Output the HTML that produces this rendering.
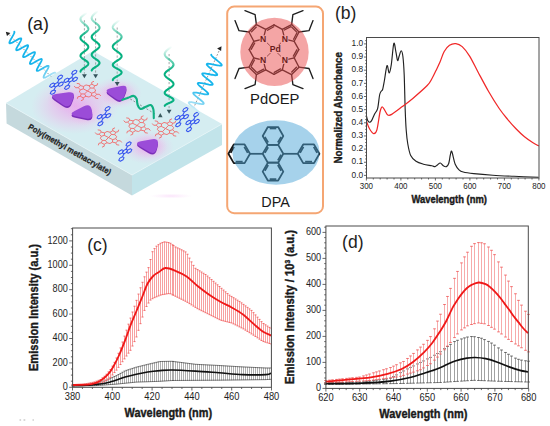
<!DOCTYPE html>
<html><head><meta charset="utf-8"><style>
html,body{margin:0;padding:0;background:#fff;width:550px;height:426px;overflow:hidden;font-family:"Liberation Sans", sans-serif;}
</style></head><body>
<svg width="550" height="426" viewBox="0 0 550 426" style="position:absolute;left:0;top:0">
<rect width="550" height="426" fill="#ffffff"/>
<defs>
<radialGradient id="pg1" cx="50%" cy="50%" r="50%"><stop offset="0" stop-color="#ea90ee" stop-opacity="0.85"/><stop offset="0.55" stop-color="#f0aeea" stop-opacity="0.5"/><stop offset="1" stop-color="#f2c0ec" stop-opacity="0"/></radialGradient>
<radialGradient id="pg2" cx="50%" cy="50%" r="50%"><stop offset="0" stop-color="#f2a8f2" stop-opacity="0.8"/><stop offset="1" stop-color="#f6c8f6" stop-opacity="0"/></radialGradient>
<filter id="blur1" x="-50%" y="-50%" width="200%" height="200%"><feGaussianBlur stdDeviation="0.35"/></filter>
</defs>
<ellipse cx="171" cy="196" rx="22" ry="2.6" fill="url(#pg2)" opacity="0.4"/>
<polygon points="6,103 132,175 132,195.6 6.6,123.5" fill="#c5d9dd"/>
<polygon points="132,175 222,124 222,145 132,195.6" fill="#c2e4ea"/>
<polygon points="6,103 93,51 222,124 132,175" fill="#d5edf1"/>
<polyline points="6,103 132,175 222,124" fill="none" stroke="#e4f4f6" stroke-width="0.8"/>
<ellipse cx="75" cy="106" rx="44" ry="28" fill="url(#pg1)" opacity="0.85"/>
<ellipse cx="117" cy="93" rx="25" ry="16" fill="url(#pg1)" opacity="0.65"/>
<ellipse cx="147" cy="147" rx="27" ry="17" fill="url(#pg1)" opacity="0.65"/>
<ellipse cx="64.5" cy="99.4" rx="18" ry="12.5" fill="url(#pg1)" opacity="0.6"/>
<ellipse cx="84" cy="113.47" rx="18" ry="12.5" fill="url(#pg1)" opacity="0.6"/>
<ellipse cx="117.73" cy="93.47" rx="18" ry="12.5" fill="url(#pg1)" opacity="0.6"/>
<ellipse cx="149.33" cy="146.33" rx="18" ry="12.5" fill="url(#pg1)" opacity="0.6"/>
<g fill="none" stroke="#f26262" stroke-width="0.85" stroke-linejoin="round"><polyline points="83.31,88.86 83.56,86.4 80.21,85.59 78.2,87.69 80.34,89.77 83.31,88.86"/><polyline points="83.56,86.4 86.03,84.94"/><polyline points="80.34,89.77 79.32,91.98"/><polyline points="80.21,85.59 79.44,83.8 76.76,83.37"/><polyline points="78.2,87.69 75.67,87.75 74.23,86.02"/><polyline points="90.44,88.01 89.04,85.74 91.82,84.2 94.7,85.71 93.67,88.17 90.44,88.01"/><polyline points="89.04,85.74 86.03,84.94"/><polyline points="93.67,88.17 95.68,90.02"/><polyline points="91.82,84.2 91.7,82.33 94.02,81.3"/><polyline points="94.7,85.71 97.12,85.18 97.66,83.21"/><polyline points="91.69,93.14 91.44,95.6 94.79,96.41 96.8,94.31 94.66,92.23 91.69,93.14"/><polyline points="91.44,95.6 88.97,97.06"/><polyline points="94.66,92.23 95.68,90.02"/><polyline points="94.79,96.41 95.56,98.2 98.24,98.63"/><polyline points="96.8,94.31 99.33,94.25 100.77,95.98"/><polyline points="84.56,93.99 85.96,96.26 83.18,97.8 80.3,96.29 81.33,93.83 84.56,93.99"/><polyline points="85.96,96.26 88.97,97.06"/><polyline points="81.33,93.83 79.32,91.98"/><polyline points="83.18,97.8 83.3,99.67 80.98,100.7"/><polyline points="80.3,96.29 77.88,96.82 77.34,98.79"/><polyline points="83.31,88.86 87.5,91"/><polyline points="90.44,88.01 87.5,91"/><polyline points="91.69,93.14 87.5,91"/><polyline points="84.56,93.99 87.5,91"/></g>
<g fill="none" stroke="#f26262" stroke-width="0.85" stroke-linejoin="round"><polyline points="104.31,135.36 104.56,132.9 101.21,132.09 99.2,134.19 101.34,136.27 104.31,135.36"/><polyline points="104.56,132.9 107.03,131.44"/><polyline points="101.34,136.27 100.32,138.48"/><polyline points="101.21,132.09 100.44,130.3 97.76,129.87"/><polyline points="99.2,134.19 96.67,134.25 95.23,132.52"/><polyline points="111.44,134.51 110.04,132.24 112.82,130.7 115.7,132.21 114.67,134.67 111.44,134.51"/><polyline points="110.04,132.24 107.03,131.44"/><polyline points="114.67,134.67 116.68,136.52"/><polyline points="112.82,130.7 112.7,128.83 115.02,127.8"/><polyline points="115.7,132.21 118.12,131.68 118.66,129.71"/><polyline points="112.69,139.64 112.44,142.1 115.79,142.91 117.8,140.81 115.66,138.73 112.69,139.64"/><polyline points="112.44,142.1 109.97,143.56"/><polyline points="115.66,138.73 116.68,136.52"/><polyline points="115.79,142.91 116.56,144.7 119.24,145.13"/><polyline points="117.8,140.81 120.33,140.75 121.77,142.48"/><polyline points="105.56,140.49 106.96,142.76 104.18,144.3 101.3,142.79 102.33,140.33 105.56,140.49"/><polyline points="106.96,142.76 109.97,143.56"/><polyline points="102.33,140.33 100.32,138.48"/><polyline points="104.18,144.3 104.3,146.17 101.98,147.2"/><polyline points="101.3,142.79 98.88,143.32 98.34,145.29"/><polyline points="104.31,135.36 108.5,137.5"/><polyline points="111.44,134.51 108.5,137.5"/><polyline points="112.69,139.64 108.5,137.5"/><polyline points="105.56,140.49 108.5,137.5"/></g>
<g fill="none" stroke="#f26262" stroke-width="0.85" stroke-linejoin="round"><polyline points="132.81,123.36 133.06,120.9 129.71,120.09 127.7,122.19 129.84,124.27 132.81,123.36"/><polyline points="133.06,120.9 135.53,119.44"/><polyline points="129.84,124.27 128.82,126.48"/><polyline points="129.71,120.09 128.94,118.3 126.26,117.87"/><polyline points="127.7,122.19 125.17,122.25 123.73,120.52"/><polyline points="139.94,122.51 138.54,120.24 141.32,118.7 144.2,120.21 143.17,122.67 139.94,122.51"/><polyline points="138.54,120.24 135.53,119.44"/><polyline points="143.17,122.67 145.18,124.52"/><polyline points="141.32,118.7 141.2,116.83 143.52,115.8"/><polyline points="144.2,120.21 146.62,119.68 147.16,117.71"/><polyline points="141.19,127.64 140.94,130.1 144.29,130.91 146.3,128.81 144.16,126.73 141.19,127.64"/><polyline points="140.94,130.1 138.47,131.56"/><polyline points="144.16,126.73 145.18,124.52"/><polyline points="144.29,130.91 145.06,132.7 147.74,133.13"/><polyline points="146.3,128.81 148.83,128.75 150.27,130.48"/><polyline points="134.06,128.49 135.46,130.76 132.68,132.3 129.8,130.79 130.83,128.33 134.06,128.49"/><polyline points="135.46,130.76 138.47,131.56"/><polyline points="130.83,128.33 128.82,126.48"/><polyline points="132.68,132.3 132.8,134.17 130.48,135.2"/><polyline points="129.8,130.79 127.38,131.32 126.84,133.29"/><polyline points="132.81,123.36 137,125.5"/><polyline points="139.94,122.51 137,125.5"/><polyline points="141.19,127.64 137,125.5"/><polyline points="134.06,128.49 137,125.5"/></g>
<g fill="none" stroke="#f26262" stroke-width="0.85" stroke-linejoin="round"><polyline points="161.31,126.36 161.56,123.9 158.21,123.09 156.2,125.19 158.34,127.27 161.31,126.36"/><polyline points="161.56,123.9 164.03,122.44"/><polyline points="158.34,127.27 157.32,129.48"/><polyline points="158.21,123.09 157.44,121.3 154.76,120.87"/><polyline points="156.2,125.19 153.67,125.25 152.23,123.52"/><polyline points="168.44,125.51 167.04,123.24 169.82,121.7 172.7,123.21 171.67,125.67 168.44,125.51"/><polyline points="167.04,123.24 164.03,122.44"/><polyline points="171.67,125.67 173.68,127.52"/><polyline points="169.82,121.7 169.7,119.83 172.02,118.8"/><polyline points="172.7,123.21 175.12,122.68 175.66,120.71"/><polyline points="169.69,130.64 169.44,133.1 172.79,133.91 174.8,131.81 172.66,129.73 169.69,130.64"/><polyline points="169.44,133.1 166.97,134.56"/><polyline points="172.66,129.73 173.68,127.52"/><polyline points="172.79,133.91 173.56,135.7 176.24,136.13"/><polyline points="174.8,131.81 177.33,131.75 178.77,133.48"/><polyline points="162.56,131.49 163.96,133.76 161.18,135.3 158.3,133.79 159.33,131.33 162.56,131.49"/><polyline points="163.96,133.76 166.97,134.56"/><polyline points="159.33,131.33 157.32,129.48"/><polyline points="161.18,135.3 161.3,137.17 158.98,138.2"/><polyline points="158.3,133.79 155.88,134.32 155.34,136.29"/><polyline points="161.31,126.36 165.5,128.5"/><polyline points="168.44,125.51 165.5,128.5"/><polyline points="169.69,130.64 165.5,128.5"/><polyline points="162.56,131.49 165.5,128.5"/></g>
<g fill="none" stroke="#3554ee" stroke-width="1.05" stroke-linejoin="round"><polygon points="53.85,86.06 51.2,87.41 49.61,86.57 50.66,84.36 53.31,83 54.9,83.85"/><polygon points="58.1,85.55 55.45,86.91 53.85,86.06 54.9,83.85 57.55,82.5 59.15,83.34"/><polygon points="62.34,85.04 59.69,86.4 58.1,85.55 59.15,83.34 61.8,81.99 63.39,82.83"/><polyline points="57.55,82.5 59.02,79.44"/><polyline points="55.45,86.91 53.98,89.97"/><polygon points="61.66,78.08 59.02,79.44 57.42,78.59 58.47,76.38 61.12,75.03 62.72,75.87"/><polygon points="54.53,93.02 51.88,94.38 50.28,93.53 51.34,91.32 53.98,89.97 55.58,90.81"/></g>
<g fill="none" stroke="#3554ee" stroke-width="1.05" stroke-linejoin="round"><polygon points="68.05,81.16 65.4,82.51 63.81,81.67 64.86,79.46 67.51,78.1 69.1,78.95"/><polygon points="72.3,80.65 69.65,82 68.05,81.16 69.1,78.95 71.75,77.59 73.35,78.44"/><polygon points="76.54,80.14 73.89,81.5 72.3,80.65 73.35,78.44 76,77.09 77.59,77.93"/><polyline points="71.75,77.59 73.22,74.53"/><polyline points="69.65,82 68.18,85.06"/><polygon points="75.86,73.18 73.22,74.53 71.62,73.69 72.67,71.48 75.32,70.12 76.92,70.97"/><polygon points="68.73,88.12 66.08,89.47 64.48,88.63 65.54,86.42 68.18,85.06 69.78,85.91"/></g>
<g fill="none" stroke="#3554ee" stroke-width="1.05" stroke-linejoin="round"><polygon points="101.35,117.56 98.7,118.91 97.11,118.07 98.16,115.86 100.81,114.5 102.4,115.35"/><polygon points="105.6,117.05 102.95,118.41 101.35,117.56 102.4,115.35 105.05,114 106.65,114.84"/><polygon points="109.84,116.54 107.19,117.9 105.6,117.05 106.65,114.84 109.3,113.49 110.89,114.33"/><polyline points="105.05,114 106.52,110.94"/><polyline points="102.95,118.41 101.48,121.47"/><polygon points="109.16,109.58 106.52,110.94 104.92,110.09 105.97,107.88 108.62,106.53 110.22,107.37"/><polygon points="102.03,124.52 99.38,125.88 97.78,125.03 98.84,122.82 101.48,121.47 103.08,122.31"/></g>
<g fill="none" stroke="#3554ee" stroke-width="1.05" stroke-linejoin="round"><polygon points="122.35,152.86 119.7,154.21 118.11,153.37 119.16,151.16 121.81,149.8 123.4,150.65"/><polygon points="126.6,152.35 123.95,153.71 122.35,152.86 123.4,150.65 126.05,149.29 127.65,150.14"/><polygon points="130.84,151.84 128.19,153.2 126.6,152.35 127.65,150.14 130.3,148.79 131.89,149.63"/><polyline points="126.05,149.29 127.52,146.24"/><polyline points="123.95,153.71 122.48,156.76"/><polygon points="130.16,144.88 127.52,146.24 125.92,145.39 126.97,143.18 129.62,141.82 131.22,142.67"/><polygon points="123.03,159.82 120.38,161.18 118.78,160.33 119.84,158.12 122.48,156.76 124.08,157.61"/></g>
<g fill="none" stroke="#3554ee" stroke-width="1.05" stroke-linejoin="round"><polygon points="179.15,118.56 176.5,119.91 174.91,119.07 175.96,116.86 178.61,115.5 180.2,116.35"/><polygon points="183.4,118.05 180.75,119.41 179.15,118.56 180.2,116.35 182.85,115 184.45,115.84"/><polygon points="187.64,117.54 184.99,118.9 183.4,118.05 184.45,115.84 187.1,114.49 188.69,115.33"/><polyline points="182.85,115 184.32,111.94"/><polyline points="180.75,119.41 179.28,122.47"/><polygon points="186.96,110.58 184.32,111.94 182.72,111.09 183.77,108.88 186.42,107.53 188.02,108.37"/><polygon points="179.83,125.52 177.18,126.88 175.58,126.03 176.64,123.82 179.28,122.47 180.88,123.31"/></g>
<g fill="none" stroke="#3554ee" stroke-width="1.05" stroke-linejoin="round"><polygon points="189.95,123.36 187.3,124.71 185.71,123.87 186.76,121.66 189.41,120.3 191,121.15"/><polygon points="194.2,122.85 191.55,124.2 189.95,123.36 191,121.15 193.65,119.8 195.25,120.64"/><polygon points="198.44,122.34 195.79,123.7 194.2,122.85 195.25,120.64 197.9,119.29 199.49,120.13"/><polyline points="193.65,119.8 195.12,116.73"/><polyline points="191.55,124.2 190.08,127.27"/><polygon points="197.76,115.38 195.12,116.73 193.52,115.89 194.57,113.68 197.22,112.33 198.82,113.17"/><polygon points="190.63,130.32 187.98,131.68 186.38,130.83 187.44,128.62 190.08,127.27 191.68,128.11"/></g>
<path d="M54.67,99.07 Q48.5,94.8 55.94,93.88L68.56,92.32 Q76,91.4 73.23,98.37L71.77,102.03 Q69,109 62.83,104.73Z" fill="#7a2fb8" transform="translate(0,1.6)"/><path d="M54.67,99.07 Q48.5,94.8 55.94,93.88L68.56,92.32 Q76,91.4 73.23,98.37L71.77,102.03 Q69,109 62.83,104.73Z" fill="#9b4cd8"/>
<path d="M75.34,116.15 Q68,114.6 74.64,111.12L83.86,106.28 Q90.5,102.8 91.79,110.19L92.21,112.61 Q93.5,120 86.16,118.45Z" fill="#7a2fb8" transform="translate(0,1.6)"/><path d="M75.34,116.15 Q68,114.6 74.64,111.12L83.86,106.28 Q90.5,102.8 91.79,110.19L92.21,112.61 Q93.5,120 86.16,118.45Z" fill="#9b4cd8"/>
<path d="M109.28,94.19 Q103.2,89.8 110.55,88.29L121.15,86.11 Q128.5,84.6 125.83,91.61L124.17,95.99 Q121.5,103 115.42,98.61Z" fill="#7a2fb8" transform="translate(0,1.6)"/><path d="M109.28,94.19 Q103.2,89.8 110.55,88.29L121.15,86.11 Q128.5,84.6 125.83,91.61L124.17,95.99 Q121.5,103 115.42,98.61Z" fill="#9b4cd8"/>
<path d="M139.92,146.38 Q133.5,142.5 140.89,141.22L152.11,139.28 Q159.5,138 157.63,145.26L156.87,148.24 Q155,155.5 148.58,151.62Z" fill="#7a2fb8" transform="translate(0,1.6)"/><path d="M139.92,146.38 Q133.5,142.5 140.89,141.22L152.11,139.28 Q159.5,138 157.63,145.26L156.87,148.24 Q155,155.5 148.58,151.62Z" fill="#9b4cd8"/>
<linearGradient id="g1" gradientUnits="userSpaceOnUse" x1="0" y1="12.2" x2="0" y2="37.2"><stop offset="0" stop-color="#30c8a0" stop-opacity="0"/><stop offset="0.45" stop-color="#20bb92" stop-opacity="0.55"/><stop offset="1" stop-color="#06b080"/></linearGradient><line x1="84.4" y1="20.2" x2="84.4" y2="73.8" stroke="#8a9292" stroke-width="0.8" stroke-dasharray="2.2,1.8"/><path d="M84.4,78.3 l-2.4,-4 l4.8,0 Z" fill="#33525a"/><path d="M85.84,13.2 L85.35,13.6 L84.84,14 L84.33,14.4 L83.81,14.8 L83.31,15.2 L82.83,15.6 L82.37,16 L81.95,16.4 L81.57,16.8 L81.24,17.2 L80.97,17.6 L80.75,18 L80.6,18.4 L80.52,18.8 L80.5,19.2 L80.55,19.6 L80.66,20 L80.84,20.4 L81.08,20.8 L81.37,21.2 L81.71,21.6 L82.1,22 L82.52,22.4 L82.98,22.8 L83.46,23.2 L83.96,23.6 L84.46,24 L84.97,24.4 L85.46,24.8 L85.94,25.2 L86.39,25.6 L86.8,26 L87.18,26.4 L87.51,26.8 L87.79,27.2 L88.01,27.6 L88.17,28 L88.27,28.4 L88.3,28.8 L88.26,29.2 L88.15,29.6 L87.97,30 L87.72,30.4 L87.41,30.8 L87.04,31.2 L86.62,31.6 L86.15,32 L85.66,32.4 L85.14,32.8 L84.6,33.2 L84.06,33.6 L83.53,34 L83.02,34.4 L82.53,34.8 L82.08,35.2 L81.67,35.6 L81.31,36 L81.01,36.4 L80.78,36.8 L80.61,37.2 L80.52,37.6 L80.5,38 L80.56,38.4 L80.69,38.8 L80.89,39.2 L81.15,39.6 L81.48,40 L81.86,40.4 L82.3,40.8 L82.77,41.2 L83.27,41.6 L83.8,42 L84.33,42.4 L84.87,42.8 L85.4,43.2 L85.91,43.6 L86.39,44 L86.83,44.4 L87.23,44.8 L87.57,45.2 L87.85,45.6 L88.07,46 L88.22,46.4 L88.29,46.8 L88.29,47.2 L88.21,47.6 L88.05,48 L87.82,48.4 L87.52,48.8 L87.16,49.2 L86.74,49.6 L86.27,50 L85.76,50.4 L85.23,50.8 L84.68,51.2 L84.12,51.6 L83.57,52 L83.04,52.4 L82.53,52.8 L82.06,53.2 L81.64,53.6 L81.28,54 L80.98,54.4 L80.75,54.8 L80.59,55.2 L80.51,55.6 L80.51,56 L80.61,56.4 L80.81,56.8 L81.1,57.2 L81.48,57.6 L81.93,58 L82.45,58.4 L83.02,58.8 L83.62,59.2 L84.24,59.6 L84.87,60 L85.49,60.4 L86.07,60.8 L86.62,61.2 L87.1,61.6 L87.52,62 L87.85,62.4 L88.1,62.8 L88.25,63.2 L88.3,63.6 L88.25,64 L88.11,64.4 L87.89,64.8 L87.57,65.2 L87.18,65.6 L86.73,66 L86.22,66.4 L85.66,66.8 L85.08,67.2 L84.48,67.6 L83.87,68 L83.28,68.4 L82.72,68.8 L82.19,69.2 L81.72,69.6 L81.32,70 L80.99,70.4 L80.74,70.8 L80.57,71.2 L80.5,71.6" fill="none" stroke="url(#g1)" stroke-width="2.1" stroke-linecap="round"/>
<linearGradient id="g2" gradientUnits="userSpaceOnUse" x1="0" y1="10.4" x2="0" y2="35.4"><stop offset="0" stop-color="#30c8a0" stop-opacity="0"/><stop offset="0.45" stop-color="#20bb92" stop-opacity="0.55"/><stop offset="1" stop-color="#06b080"/></linearGradient><line x1="95.6" y1="18.4" x2="95.6" y2="73.8" stroke="#8a9292" stroke-width="0.8" stroke-dasharray="2.2,1.8"/><path d="M95.6,78.3 l-2.4,-4 l4.8,0 Z" fill="#33525a"/><path d="M97.04,11.4 L96.61,11.8 L96.17,12.2 L95.73,12.6 L95.28,13 L94.84,13.4 L94.41,13.8 L93.99,14.2 L93.6,14.6 L93.23,15 L92.89,15.4 L92.59,15.8 L92.32,16.2 L92.1,16.6 L91.93,17 L91.8,17.4 L91.73,17.8 L91.7,18.2 L91.73,18.6 L91.84,19 L92.01,19.4 L92.24,19.8 L92.54,20.2 L92.89,20.6 L93.29,21 L93.73,21.4 L94.2,21.8 L94.7,22.2 L95.21,22.6 L95.73,23 L96.25,23.4 L96.76,23.8 L97.24,24.2 L97.7,24.6 L98.12,25 L98.49,25.4 L98.82,25.8 L99.08,26.2 L99.28,26.6 L99.42,27 L99.49,27.4 L99.49,27.8 L99.42,28.2 L99.28,28.6 L99.08,29 L98.82,29.4 L98.49,29.8 L98.12,30.2 L97.7,30.6 L97.24,31 L96.76,31.4 L96.25,31.8 L95.73,32.2 L95.21,32.6 L94.7,33 L94.2,33.4 L93.73,33.8 L93.29,34.2 L92.89,34.6 L92.54,35 L92.24,35.4 L92.01,35.8 L91.84,36.2 L91.73,36.6 L91.7,37 L91.74,37.4 L91.85,37.8 L92.04,38.2 L92.31,38.6 L92.63,39 L93.02,39.4 L93.45,39.8 L93.93,40.2 L94.45,40.6 L94.98,41 L95.53,41.4 L96.08,41.8 L96.62,42.2 L97.14,42.6 L97.63,43 L98.08,43.4 L98.48,43.8 L98.82,44.2 L99.1,44.6 L99.3,45 L99.44,45.4 L99.5,45.8 L99.48,46.2 L99.38,46.6 L99.21,47 L98.97,47.4 L98.66,47.8 L98.28,48.2 L97.86,48.6 L97.39,49 L96.88,49.4 L96.35,49.8 L95.81,50.2 L95.26,50.6 L94.71,51 L94.19,51.4 L93.69,51.8 L93.23,52.2 L92.82,52.6 L92.46,53 L92.17,53.4 L91.94,53.8 L91.79,54.2 L91.71,54.6 L91.71,55 L91.8,55.4 L91.98,55.8 L92.25,56.2 L92.59,56.6 L93.01,57 L93.48,57.4 L94,57.8 L94.57,58.2 L95.15,58.6 L95.75,59 L96.34,59.4 L96.92,59.8 L97.46,60.2 L97.96,60.6 L98.41,61 L98.79,61.4 L99.1,61.8 L99.32,62.2 L99.45,62.6 L99.5,63 L99.45,63.4 L99.3,63.8 L99.05,64.2 L98.72,64.6 L98.3,65 L97.82,65.4 L97.27,65.8 L96.69,66.2 L96.07,66.6 L95.44,67 L94.82,67.4 L94.22,67.8 L93.65,68.2 L93.13,68.6 L92.68,69 L92.3,69.4 L92.01,69.8 L91.81,70.2 L91.71,70.6" fill="none" stroke="url(#g2)" stroke-width="2.1" stroke-linecap="round"/>
<linearGradient id="g3" gradientUnits="userSpaceOnUse" x1="0" y1="19.5" x2="0" y2="44.5"><stop offset="0" stop-color="#30c8a0" stop-opacity="0"/><stop offset="0.45" stop-color="#20bb92" stop-opacity="0.55"/><stop offset="1" stop-color="#06b080"/></linearGradient><line x1="117.2" y1="27.5" x2="117.2" y2="81.6" stroke="#8a9292" stroke-width="0.8" stroke-dasharray="2.2,1.8"/><path d="M117.2,86.1 l-2.4,-4 l4.8,0 Z" fill="#33525a"/><path d="M118.82,20.5 L118.33,20.9 L117.83,21.3 L117.32,21.7 L116.81,22.1 L116.31,22.5 L115.81,22.9 L115.34,23.3 L114.89,23.7 L114.47,24.1 L114.09,24.5 L113.75,24.9 L113.45,25.3 L113.21,25.7 L113.02,26.1 L112.89,26.5 L112.82,26.9 L112.8,27.3 L112.86,27.7 L112.99,28.1 L113.18,28.5 L113.45,28.9 L113.78,29.3 L114.17,29.7 L114.6,30.1 L115.08,30.5 L115.6,30.9 L116.14,31.3 L116.7,31.7 L117.27,32.1 L117.84,32.5 L118.4,32.9 L118.93,33.3 L119.44,33.7 L119.91,34.1 L120.34,34.5 L120.71,34.9 L121.02,35.3 L121.27,35.7 L121.45,36.1 L121.56,36.5 L121.6,36.9 L121.56,37.3 L121.45,37.7 L121.27,38.1 L121.02,38.5 L120.71,38.9 L120.34,39.3 L119.91,39.7 L119.44,40.1 L118.93,40.5 L118.4,40.9 L117.84,41.3 L117.27,41.7 L116.7,42.1 L116.14,42.5 L115.6,42.9 L115.08,43.3 L114.6,43.7 L114.17,44.1 L113.78,44.5 L113.45,44.9 L113.18,45.3 L112.99,45.7 L112.86,46.1 L112.8,46.5 L112.82,46.9 L112.91,47.3 L113.08,47.7 L113.31,48.1 L113.61,48.5 L113.97,48.9 L114.38,49.3 L114.84,49.7 L115.34,50.1 L115.87,50.5 L116.42,50.9 L116.99,51.3 L117.56,51.7 L118.12,52.1 L118.67,52.5 L119.19,52.9 L119.68,53.3 L120.13,53.7 L120.53,54.1 L120.87,54.5 L121.16,54.9 L121.37,55.3 L121.52,55.7 L121.59,56.1 L121.59,56.5 L121.5,56.9 L121.32,57.3 L121.05,57.7 L120.7,58.1 L120.28,58.5 L119.8,58.9 L119.26,59.3 L118.68,59.7 L118.07,60.1 L117.44,60.5 L116.8,60.9 L116.18,61.3 L115.57,61.7 L115,62.1 L114.47,62.5 L114.01,62.9 L113.6,63.3 L113.28,63.7 L113.03,64.1 L112.87,64.5 L112.8,64.9 L112.84,65.3 L112.99,65.7 L113.27,66.1 L113.66,66.5 L114.16,66.9 L114.74,67.3 L115.39,67.7 L116.09,68.1 L116.83,68.5 L117.57,68.9 L118.31,69.3 L119.01,69.7 L119.66,70.1 L120.24,70.5 L120.74,70.9 L121.13,71.3 L121.41,71.7 L121.56,72.1 L121.6,72.5 L121.51,72.9 L121.31,73.3 L121,73.7 L120.58,74.1 L120.08,74.5 L119.5,74.9 L118.86,75.3 L118.18,75.7 L117.47,76.1 L116.75,76.5 L116.05,76.9 L115.37,77.3 L114.75,77.7 L114.19,78.1 L113.7,78.5 L113.32,78.9 L113.03,79.3 L112.86,79.7 L112.8,80.1" fill="none" stroke="url(#g3)" stroke-width="2.1" stroke-linecap="round"/>
<linearGradient id="g4" gradientUnits="userSpaceOnUse" x1="0" y1="46" x2="0" y2="71"><stop offset="0" stop-color="#30c8a0" stop-opacity="0"/><stop offset="0.45" stop-color="#20bb92" stop-opacity="0.55"/><stop offset="1" stop-color="#06b080"/></linearGradient><line x1="169.1" y1="54" x2="169.1" y2="109.2" stroke="#8a9292" stroke-width="0.8" stroke-dasharray="2.2,1.8"/><path d="M169.1,113.7 l-2.4,-4 l4.8,0 Z" fill="#33525a"/><path d="M170.72,47 L170.26,47.4 L169.79,47.8 L169.31,48.2 L168.83,48.6 L168.35,49 L167.88,49.4 L167.42,49.8 L166.99,50.2 L166.58,50.6 L166.2,51 L165.85,51.4 L165.55,51.8 L165.28,52.2 L165.07,52.6 L164.9,53 L164.78,53.4 L164.71,53.8 L164.7,54.2 L164.75,54.6 L164.86,55 L165.02,55.4 L165.25,55.8 L165.53,56.2 L165.85,56.6 L166.23,57 L166.64,57.4 L167.09,57.8 L167.57,58.2 L168.07,58.6 L168.58,59 L169.1,59.4 L169.62,59.8 L170.13,60.2 L170.63,60.6 L171.11,61 L171.56,61.4 L171.97,61.8 L172.35,62.2 L172.67,62.6 L172.95,63 L173.18,63.4 L173.34,63.8 L173.45,64.2 L173.5,64.6 L173.48,65 L173.39,65.4 L173.22,65.8 L172.99,66.2 L172.69,66.6 L172.33,67 L171.92,67.4 L171.46,67.8 L170.96,68.2 L170.43,68.6 L169.88,69 L169.31,69.4 L168.74,69.8 L168.18,70.2 L167.63,70.6 L167.11,71 L166.62,71.4 L166.17,71.8 L165.77,72.2 L165.43,72.6 L165.14,73 L164.93,73.4 L164.78,73.8 L164.71,74.2 L164.71,74.6 L164.78,75 L164.93,75.4 L165.14,75.8 L165.43,76.2 L165.77,76.6 L166.17,77 L166.62,77.4 L167.11,77.8 L167.63,78.2 L168.18,78.6 L168.74,79 L169.31,79.4 L169.88,79.8 L170.43,80.2 L170.96,80.6 L171.46,81 L171.92,81.4 L172.33,81.8 L172.69,82.2 L172.99,82.6 L173.22,83 L173.39,83.4 L173.48,83.8 L173.5,84.2 L173.43,84.6 L173.27,85 L173.03,85.4 L172.71,85.8 L172.32,86.2 L171.86,86.6 L171.35,87 L170.78,87.4 L170.19,87.8 L169.57,88.2 L168.94,88.6 L168.32,89 L167.71,89.4 L167.13,89.8 L166.59,90.2 L166.1,90.6 L165.67,91 L165.32,91.4 L165.03,91.8 L164.84,92.2 L164.73,92.6 L164.7,93 L164.81,93.4 L165.04,93.8 L165.41,94.2 L165.89,94.6 L166.47,95 L167.13,95.4 L167.85,95.8 L168.61,96.2 L169.39,96.6 L170.16,97 L170.9,97.4 L171.57,97.8 L172.18,98.2 L172.68,98.6 L173.08,99 L173.35,99.4 L173.48,99.8 L173.48,100.2 L173.29,100.6 L172.93,101 L172.4,101.4 L171.74,101.8 L170.97,102.2 L170.11,102.6 L169.21,103 L168.31,103.4 L167.44,103.8 L166.64,104.2 L165.95,104.6 L165.39,105 L164.98,105.4 L164.75,105.8" fill="none" stroke="url(#g4)" stroke-width="2.1" stroke-linecap="round"/>
<line x1="127" y1="97" x2="156" y2="114.5" stroke="#6f7a7a" stroke-width="0.8" stroke-dasharray="2,1.8"/>
<path d="M122.4,99.8C123.27,99.5 125.75,98.65 127.6,98C129.45,97.35 132,95.77 133.5,95.9C135,96.03 135.92,97.32 136.6,98.8C137.28,100.28 136.92,103.12 137.6,104.8C138.28,106.48 139.32,108.57 140.7,108.9C142.08,109.23 144.22,107.45 145.9,106.8C147.58,106.15 149.55,104.55 150.8,105C152.05,105.45 152.9,107.32 153.4,109.5C153.9,111.68 153.73,116.67 153.8,118.1" fill="none" stroke="#10b083" stroke-width="2.1" stroke-linecap="round"/>
<path d="M160.3,113 l2.3,4.3 l-4.6,0 Z" fill="#3a5a5e"/>
<linearGradient id="bw1" gradientUnits="userSpaceOnUse" x1="12" y1="38" x2="52" y2="77"><stop offset="0" stop-color="#17b5ec"/><stop offset="0.72" stop-color="#17b5ec"/><stop offset="1" stop-color="#b8e6f6"/></linearGradient>
<line x1="9" y1="34.5" x2="51" y2="76.5" stroke="#6a6a6a" stroke-width="0.7" stroke-dasharray="1.8,1.6"/>
<path d="M14.31,31.61 L14.45,31.9 L14.43,32.34 L14.27,32.92 L13.98,33.63 L13.58,34.46 L13.09,35.36 L12.54,36.33 L11.96,37.33 L11.38,38.34 L10.82,39.32 L10.32,40.24 L9.9,41.07 L9.59,41.81 L9.41,42.41 L9.37,42.88 L9.48,43.19 L9.74,43.35 L10.16,43.36 L10.72,43.23 L11.41,42.96 L12.22,42.58 L13.11,42.11 L14.08,41.57 L15.08,41 L16.09,40.42 L17.07,39.86 L18.01,39.36 L18.86,38.93 L19.62,38.6 L20.24,38.4 L20.73,38.34 L21.07,38.42 L21.26,38.66 L21.29,39.05 L21.18,39.59 L20.93,40.26 L20.56,41.05 L20.1,41.93 L19.57,42.88 L19,43.87 L18.41,44.88 L17.84,45.87 L17.32,46.81 L16.87,47.68 L16.53,48.45 L16.3,49.1 L16.21,49.61 L16.27,49.98 L16.48,50.19 L16.84,50.25 L17.36,50.16 L18.01,49.94 L18.78,49.59 L19.65,49.15 L20.59,48.63 L21.59,48.07 L22.59,47.49 L23.59,46.92 L24.55,46.39 L25.43,45.94 L26.22,45.58 L26.89,45.33 L27.43,45.22 L27.82,45.25 L28.06,45.44 L28.14,45.78 L28.07,46.27 L27.87,46.9 L27.54,47.65 L27.11,48.5 L26.6,49.43 L26.03,50.42 L25.45,51.42 L24.87,52.42 L24.33,53.38 L23.86,54.28 L23.47,55.08 L23.2,55.77 L23.06,56.33 L23.07,56.75 L23.23,57.01 L23.55,57.12 L24.01,57.08 L24.62,56.9 L25.35,56.6 L26.19,56.18 L27.11,55.69 L28.09,55.14 L29.1,54.56 L30.1,53.98 L31.08,53.44 L31.99,52.96 L32.81,52.56 L33.52,52.27 L34.11,52.12 L34.55,52.1 L34.84,52.24 L34.97,52.53 L34.95,52.97 L34.79,53.55 L34.5,54.26 L34.1,55.08 L33.62,55.99 L33.07,56.96 L32.49,57.96 L31.9,58.97 L31.35,59.94 L30.85,60.86 L30.43,61.7 L30.12,62.43 L29.94,63.04 L29.9,63.5 L30,63.82 L30.27,63.98 L30.68,63.99 L31.24,63.85 L31.94,63.59 L32.74,63.21 L33.64,62.74 L34.61,62.2 L35.61,61.63 L36.61,61.05 L37.6,60.49 L38.53,59.98 L39.39,59.56 L40.14,59.23 L40.77,59.03 L41.26,58.96 L41.6,59.05 L41.79,59.29 L41.82,59.68 L41.7,60.22 L41.46,60.89 L41.09,61.67 L40.63,62.56 L40.1,63.51 L39.52,64.5 L38.94,65.51 L38.37,66.5 L37.85,67.44 L37.4,68.31 L37.05,69.08 L36.83,69.73 L36.74,70.24 L36.79,70.61 L37,70.82 L37.37,70.88 L37.88,70.79 L38.53,70.57 L39.31,70.22 L40.18,69.78 L41.12,69.26 L42.11,68.7 L43.12,68.12 L44.12,67.55 L45.07,67.02 L45.96,66.56 L46.75,66.2 L47.42,65.96 L47.96,65.84 L48.35,65.88 L48.58,66.07 L48.67,66.41 L48.6,66.9 L48.4,67.52 L48.07,68.27 L47.63,69.13 L47.12,70.06 L46.56,71.04 L45.98,72.05 L45.4,73.05 L44.86,74.01 L44.38,74.9 L44,75.71 L43.73,76.4 L43.59,76.96 L43.6,77.38 L43.76,77.64 L44.07,77.75 L44.54,77.71 L45.15,77.53 L45.88,77.22 L46.72,76.81 L47.64,76.32 L48.62,75.76 L49.63,75.19 L50.63,74.61 L51.6,74.07 L52.51,73.58 L53.34,73.19 L54.05,72.9 L54.63,72.74 L55.08,72.73 L55.36,72.86" fill="none" stroke="url(#bw1)" stroke-width="1.8" stroke-linecap="round"/>
<path d="M5.8,31.8 l4.6,1.1 l-3.4,3.2 Z" fill="#222"/>
<linearGradient id="bw2" gradientUnits="userSpaceOnUse" x1="219" y1="52" x2="193" y2="108"><stop offset="0" stop-color="#17b5ec"/><stop offset="0.68" stop-color="#17b5ec"/><stop offset="1" stop-color="#c4eaf7"/></linearGradient>
<line x1="219" y1="51" x2="194" y2="107" stroke="#6a6a6a" stroke-width="0.7" stroke-dasharray="1.8,1.6"/>
<path d="M211.26,54.53 L211.23,54.85 L211.4,55.26 L211.76,55.76 L212.29,56.34 L212.97,56.99 L213.78,57.7 L214.68,58.45 L215.65,59.23 L216.64,60.03 L217.63,60.83 L218.58,61.6 L219.46,62.35 L220.22,63.04 L220.86,63.66 L221.33,64.22 L221.63,64.69 L221.73,65.07 L221.64,65.35 L221.34,65.55 L220.85,65.65 L220.18,65.67 L219.35,65.61 L218.37,65.48 L217.27,65.3 L216.09,65.07 L214.85,64.83 L213.6,64.57 L212.37,64.32 L211.18,64.1 L210.09,63.92 L209.11,63.79 L208.27,63.73 L207.6,63.75 L207.11,63.85 L206.82,64.04 L206.72,64.33 L206.83,64.71 L207.12,65.18 L207.6,65.73 L208.23,66.36 L209,67.05 L209.87,67.79 L210.82,68.57 L211.81,69.36 L212.81,70.16 L213.77,70.95 L214.68,71.7 L215.48,72.41 L216.16,73.06 L216.69,73.64 L217.05,74.14 L217.22,74.55 L217.19,74.87 L216.97,75.09 L216.54,75.23 L215.93,75.27 L215.15,75.23 L214.21,75.13 L213.15,74.96 L211.99,74.75 L210.77,74.51 L209.52,74.25 L208.28,74 L207.07,73.77 L205.94,73.57 L204.92,73.42 L204.03,73.34 L203.31,73.33 L202.75,73.4 L202.4,73.57 L202.23,73.82 L202.27,74.17 L202.51,74.61 L202.92,75.14 L203.51,75.74 L204.23,76.41 L205.07,77.14 L206,77.91 L206.98,78.7 L207.98,79.5 L208.96,80.29 L209.89,81.05 L210.73,81.78 L211.46,82.45 L212.04,83.05 L212.45,83.58 L212.69,84.02 L212.73,84.37 L212.57,84.63 L212.21,84.79 L211.66,84.86 L210.93,84.85 L210.04,84.77 L209.02,84.62 L207.89,84.42 L206.69,84.19 L205.44,83.94 L204.19,83.68 L202.97,83.44 L201.81,83.23 L200.75,83.07 L199.81,82.96 L199.03,82.92 L198.42,82.97 L198,83.1 L197.77,83.33 L197.74,83.64 L197.91,84.05 L198.27,84.55 L198.8,85.13 L199.48,85.78 L200.28,86.49 L201.19,87.25 L202.15,88.03 L203.15,88.83 L204.14,89.62 L205.09,90.4 L205.96,91.14 L206.73,91.83 L207.36,92.46 L207.84,93.01 L208.13,93.48 L208.24,93.86 L208.14,94.15 L207.85,94.34 L207.36,94.45 L206.69,94.46 L205.85,94.4 L204.87,94.28 L203.78,94.09 L202.6,93.87 L201.36,93.62 L200.11,93.37 L198.87,93.12 L197.69,92.9 L196.59,92.71 L195.61,92.59 L194.78,92.53 L194.11,92.54 L193.62,92.64 L193.32,92.84 L193.23,93.13 L193.34,93.51 L193.63,93.98 L194.1,94.53 L194.74,95.16 L195.5,95.85 L196.38,96.59 L197.33,97.37 L198.32,98.16 L199.32,98.96 L200.28,99.74 L201.18,100.5 L201.99,101.21 L202.67,101.86 L203.2,102.44 L203.56,102.93 L203.73,103.34 L203.7,103.66 L203.47,103.89 L203.05,104.02 L202.44,104.07 L201.65,104.03 L200.72,103.92 L199.66,103.76 L198.5,103.55 L197.28,103.31 L196.03,103.05 L194.78,102.8 L193.58,102.57 L192.45,102.37 L191.43,102.22 L190.54,102.14 L189.81,102.13 L189.26,102.2 L188.9,102.36 L188.74,102.62 L188.78,102.97 L189.01,103.41 L189.43,103.93 L190.01,104.54 L190.74,105.21 L191.58,105.94 L192.51,106.7 L193.49,107.49 L194.49,108.29 L195.47,109.08 L196.4,109.85 L197.24,110.57 L197.96,111.25 L198.54,111.85 L198.96,112.38 L199.19,112.82" fill="none" stroke="url(#bw2)" stroke-width="1.8" stroke-linecap="round"/>
<path d="M221.5,46.2 l-0.4,4.7 l-4,-2.4 Z" fill="#222"/>
<text transform="translate(27.2,30.4) scale(0.96,1)" font-family='"Liberation Sans", sans-serif' font-size="18.5" fill="#1a1a1a">(a)</text>
<text transform="translate(27.6,128.6) rotate(29.7)" font-family='"Liberation Sans", sans-serif' font-size="8.3" font-weight="bold" fill="#1e1e1e" stroke="#1e1e1e" stroke-width="0.25" textLength="94" lengthAdjust="spacingAndGlyphs">Poly(methyl methacrylate)</text>
<rect x="227.2" y="6.6" width="95.8" height="206.6" rx="7" ry="7" fill="none" stroke="#f5a673" stroke-width="2"/>
<g fill="none" stroke="#1e1e1e" stroke-width="1.35" stroke-linejoin="round" stroke-linecap="round"><polyline points="263.2,39.1 265.7,29.4 256.4,24.6 249,32 253.8,41.3 263.2,39.1"/><polyline points="265.7,29.4 274,24.8"/><polyline points="253.8,41.3 249.2,49.6"/><polyline points="256.4,24.6 255.1,14.6 245,10.6"/><polyline points="249,32 239,30.7 235,20.6"/><polyline points="284.8,39.1 282.3,29.4 291.6,24.6 299,32 294.2,41.3 284.8,39.1"/><polyline points="282.3,29.4 274,24.8"/><polyline points="294.2,41.3 298.8,49.6"/><polyline points="291.6,24.6 292.9,14.6 303,10.6"/><polyline points="299,32 309,30.7 313,20.6"/><polyline points="284.8,60.1 282.3,69.8 291.6,74.6 299,67.2 294.2,57.9 284.8,60.1"/><polyline points="282.3,69.8 274,74.4"/><polyline points="294.2,57.9 298.8,49.6"/><polyline points="291.6,74.6 292.9,84.6 303,88.6"/><polyline points="299,67.2 309,68.5 313,78.6"/><polyline points="263.2,60.1 265.7,69.8 256.4,74.6 249,67.2 253.8,57.9 263.2,60.1"/><polyline points="265.7,69.8 274,74.4"/><polyline points="253.8,57.9 249.2,49.6"/><polyline points="256.4,74.6 255.1,84.6 245,88.6"/><polyline points="249,67.2 239,68.5 235,78.6"/><polyline points="256.27,27.13 251.53,31.87"/><polyline points="267.47,30.25 273.78,26.75"/><polyline points="254.65,43.07 251.15,49.38"/><polyline points="291.73,27.13 296.47,31.87"/><polyline points="284.38,30.01 290.89,26.65"/><polyline points="293.59,39.22 296.95,32.71"/><polyline points="291.73,72.07 296.47,67.33"/><polyline points="280.53,68.95 274.22,72.45"/><polyline points="293.35,56.13 296.85,49.82"/><polyline points="256.27,72.07 251.53,67.33"/><polyline points="263.62,69.19 257.11,72.55"/><polyline points="254.41,59.98 251.05,66.49"/><polyline stroke-width="0.8" points="267.3,43.09 270.76,46.45"/><polyline stroke-width="0.8" points="280.7,43.09 277.24,46.45"/><polyline stroke-width="0.8" points="280.7,56.11 277.24,52.75"/><polyline stroke-width="0.8" points="267.3,56.11 270.76,52.75"/></g><rect x="259.7" y="35.4" width="7" height="7.4" fill="#fff"/><rect x="281.3" y="35.4" width="7" height="7.4" fill="#fff"/><rect x="281.3" y="56.4" width="7" height="7.4" fill="#fff"/><rect x="259.7" y="56.4" width="7" height="7.4" fill="#fff"/><rect x="269.8" y="45.4" width="11" height="7.6" fill="#fff"/><circle cx="274.5" cy="51.9" r="34.2" fill="#ea4c4c" fill-opacity="0.5"/><g font-family='"Liberation Sans", sans-serif' font-size="8.6" font-weight="bold" fill="#6a1c1c" text-anchor="middle"><text x="263.2" y="42.2">N</text><text x="284.8" y="42.2">N</text><text x="284.8" y="63.2">N</text><text x="263.2" y="63.2">N</text><text x="275.3" y="52.4">Pd</text></g>
<text x="274.8" y="103.6" font-family='"Liberation Sans", sans-serif' font-size="14.8" fill="#1a1a1a" text-anchor="middle">PdOEP</text>
<g fill="none" stroke="#161616" stroke-width="1.75" stroke-linejoin="round"><polygon points="283.3,135.96 278.15,144.88 267.85,144.88 262.7,135.96 267.85,127.04 278.15,127.04"/><polygon points="283.3,153.8 278.15,162.72 267.85,162.72 262.7,153.8 267.85,144.88 278.15,144.88"/><polygon points="283.3,171.64 278.15,180.56 267.85,180.56 262.7,171.64 267.85,162.72 278.15,162.72"/><polygon points="250,153.8 244.6,163.15 233.8,163.15 228.4,153.8 233.8,144.45 244.6,144.45"/><polygon points="319.4,153.8 314,163.15 303.2,163.15 297.8,153.8 303.2,144.45 314,144.45"/><line x1="262.7" y1="153.8" x2="250" y2="153.8"/><line x1="283.3" y1="153.8" x2="297.8" y2="153.8"/><line x1="269.71" y1="128.47" x2="276.29" y2="128.47"/><line x1="281.13" y1="136.86" x2="277.85" y2="142.55"/><line x1="268.15" y1="142.55" x2="264.87" y2="136.86"/><line x1="281.13" y1="154.7" x2="277.85" y2="160.39"/><line x1="264.87" y1="152.9" x2="268.15" y2="147.21"/><line x1="276.29" y1="179.13" x2="269.71" y2="179.13"/><line x1="264.87" y1="170.74" x2="268.15" y2="165.05"/><line x1="277.85" y1="165.05" x2="281.13" y2="170.74"/><line x1="242.65" y1="161.66" x2="235.75" y2="161.66"/><line x1="230.67" y1="152.86" x2="234.12" y2="146.89"/><line x1="244.28" y1="146.89" x2="247.73" y2="152.86"/><line x1="312.05" y1="161.66" x2="305.15" y2="161.66"/><line x1="300.07" y1="152.86" x2="303.52" y2="146.89"/><line x1="313.68" y1="146.89" x2="317.13" y2="152.86"/></g><ellipse cx="276" cy="152.5" rx="43.6" ry="32.2" fill="#4ea6d8" fill-opacity="0.5"/>
<text x="275.6" y="206.7" font-family='"Liberation Sans", sans-serif' font-size="14.4" fill="#1a1a1a" text-anchor="middle">DPA</text>
<text transform="translate(334.9,19.4) scale(0.95,1)" font-family='"Liberation Sans", sans-serif' font-size="18.5" font-weight="normal" fill="#1e1e1e" text-anchor="start">(b)</text>
<path d="M366.5,116.1C366.68,116.78 367.1,119.18 367.6,120.2C368.1,121.22 368.83,122.13 369.5,122.2C370.17,122.27 370.75,121.97 371.6,120.6C372.45,119.23 373.6,116 374.6,114C375.6,112 376.77,111.77 377.6,108.6C378.43,105.43 379,97.9 379.6,95C380.2,92.1 380.7,92.12 381.2,91.2C381.7,90.28 382.07,91.28 382.6,89.5C383.13,87.72 383.67,84.48 384.4,80.5C385.13,76.52 386.2,66.85 387,65.6C387.8,64.35 388.48,73.17 389.2,73C389.92,72.83 390.53,69.52 391.3,64.6C392.07,59.68 393.03,45.62 393.8,43.5C394.57,41.38 395.27,49.07 395.9,51.9C396.53,54.73 397.05,59.82 397.6,60.5C398.15,61.18 398.6,57.62 399.2,56C399.8,54.38 400.58,50.72 401.2,50.8C401.82,50.88 402.4,52.47 402.9,56.5C403.4,60.53 403.82,66.08 404.2,75C404.58,83.92 404.87,100.83 405.2,110C405.53,119.17 405.77,124.33 406.2,130C406.63,135.67 407.05,139.75 407.8,144C408.55,148.25 409.33,152.62 410.7,155.5C412.07,158.38 413.88,159.85 416,161.3C418.12,162.75 420.77,163.45 423.4,164.2C426.03,164.95 429.87,165.4 431.8,165.8C433.73,166.2 434.07,166.73 435,166.6C435.93,166.47 436.52,165.6 437.4,165C438.28,164.4 439.32,162.87 440.3,163C441.28,163.13 442.28,165.2 443.3,165.8C444.32,166.4 445.5,166.98 446.4,166.6C447.3,166.22 448.05,165.43 448.7,163.5C449.35,161.57 449.82,157.08 450.3,155C450.78,152.92 451.13,150.78 451.6,151C452.07,151.22 452.5,154.1 453.1,156.3C453.7,158.5 454.22,161.95 455.2,164.2C456.18,166.45 457.67,168.5 459,169.8C460.33,171.1 460.73,171.37 463.2,172C465.67,172.63 468.87,173.07 473.8,173.6C478.73,174.13 486.1,174.75 492.8,175.2C499.5,175.65 506.38,175.95 514,176.3C521.62,176.65 534.42,177.13 538.5,177.3" fill="none" stroke="#222" stroke-width="1.15"/>
<path d="M366.5,121.4C367,122.63 368.3,126.77 369.5,128.8C370.7,130.83 372.47,133.43 373.7,133.6C374.93,133.77 375.83,133.48 376.9,129.8C377.97,126.12 379.22,115.33 380.1,111.5C380.98,107.67 381.4,106.97 382.2,106.8C383,106.63 383.97,109.13 384.9,110.5C385.83,111.87 386.67,114.35 387.8,115C388.93,115.65 389.28,115.8 391.7,114.4C394.12,113 398.78,109.27 402.3,106.6C405.82,103.93 408.65,101.92 412.8,98.4C416.95,94.88 424,88.82 427.2,85.5C430.4,82.18 430.53,81 432,78.5C433.47,76 434.67,73.25 436,70.5C437.33,67.75 438.63,65.17 440,62C441.37,58.83 442.62,54.28 444.2,51.5C445.78,48.72 447.57,46.62 449.5,45.3C451.43,43.98 453.68,43.38 455.8,43.6C457.92,43.82 459.9,44.52 462.2,46.6C464.5,48.68 466.97,51.87 469.6,56.1C472.23,60.33 474.83,66.1 478,72C481.17,77.9 485.07,85.42 488.6,91.5C492.13,97.58 496.03,103.87 499.2,108.5C502.37,113.13 504.8,115.92 507.6,119.3C510.4,122.68 513.18,125.88 516,128.8C518.82,131.72 521.67,134.47 524.5,136.8C527.33,139.13 530.6,141.27 533,142.8C535.4,144.33 537.92,145.47 538.9,146" fill="none" stroke="#f02828" stroke-width="1.25"/>
<rect x="366.5" y="37.5" width="172.5" height="140.5" fill="none" stroke="#4a4a4a" stroke-width="1"/>
<path d="M366.4,178v2.5M400.9,178v2.5M435.4,178v2.5M469.9,178v2.5M504.4,178v2.5M538.9,178v2.5" stroke="#444" stroke-width="0.8"/>
<path d="M373.3,178v1.5M380.2,178v1.5M387.1,178v1.5M394,178v1.5M407.8,178v1.5M414.7,178v1.5M421.6,178v1.5M428.5,178v1.5M442.3,178v1.5M449.2,178v1.5M456.1,178v1.5M463,178v1.5M476.8,178v1.5M483.7,178v1.5M490.6,178v1.5M497.5,178v1.5M511.3,178v1.5M518.2,178v1.5M525.1,178v1.5M532,178v1.5" stroke="#444" stroke-width="0.8"/>
<path d="M366.5,175.4h-2.5M366.5,162.25h-2.5M366.5,149.1h-2.5M366.5,135.95h-2.5M366.5,122.8h-2.5M366.5,109.65h-2.5M366.5,96.5h-2.5M366.5,83.35h-2.5M366.5,70.2h-2.5M366.5,57.05h-2.5M366.5,43.9h-2.5" stroke="#444" stroke-width="0.8"/>
<path d="M366.5,172.11h-1.3M366.5,168.83h-1.3M366.5,165.54h-1.3M366.5,158.96h-1.3M366.5,155.68h-1.3M366.5,152.39h-1.3M366.5,145.81h-1.3M366.5,142.53h-1.3M366.5,139.24h-1.3M366.5,132.66h-1.3M366.5,129.38h-1.3M366.5,126.09h-1.3M366.5,119.51h-1.3M366.5,116.22h-1.3M366.5,112.94h-1.3M366.5,106.36h-1.3M366.5,103.08h-1.3M366.5,99.79h-1.3M366.5,93.21h-1.3M366.5,89.92h-1.3M366.5,86.64h-1.3M366.5,80.06h-1.3M366.5,76.78h-1.3M366.5,73.49h-1.3M366.5,66.91h-1.3M366.5,63.63h-1.3M366.5,60.34h-1.3M366.5,53.76h-1.3M366.5,50.48h-1.3M366.5,47.19h-1.3M366.5,40.61h-1.3" stroke="#444" stroke-width="0.8"/>
<text transform="translate(363.2,177.6) scale(0.95,1)" font-family='"Liberation Sans", sans-serif' font-size="8.8" font-weight="normal" fill="#1e1e1e" text-anchor="end">0.0</text>
<text transform="translate(363.2,164.45) scale(0.95,1)" font-family='"Liberation Sans", sans-serif' font-size="8.8" font-weight="normal" fill="#1e1e1e" text-anchor="end">0.1</text>
<text transform="translate(363.2,151.3) scale(0.95,1)" font-family='"Liberation Sans", sans-serif' font-size="8.8" font-weight="normal" fill="#1e1e1e" text-anchor="end">0.2</text>
<text transform="translate(363.2,138.15) scale(0.95,1)" font-family='"Liberation Sans", sans-serif' font-size="8.8" font-weight="normal" fill="#1e1e1e" text-anchor="end">0.3</text>
<text transform="translate(363.2,125) scale(0.95,1)" font-family='"Liberation Sans", sans-serif' font-size="8.8" font-weight="normal" fill="#1e1e1e" text-anchor="end">0.4</text>
<text transform="translate(363.2,111.85) scale(0.95,1)" font-family='"Liberation Sans", sans-serif' font-size="8.8" font-weight="normal" fill="#1e1e1e" text-anchor="end">0.5</text>
<text transform="translate(363.2,98.7) scale(0.95,1)" font-family='"Liberation Sans", sans-serif' font-size="8.8" font-weight="normal" fill="#1e1e1e" text-anchor="end">0.6</text>
<text transform="translate(363.2,85.55) scale(0.95,1)" font-family='"Liberation Sans", sans-serif' font-size="8.8" font-weight="normal" fill="#1e1e1e" text-anchor="end">0.7</text>
<text transform="translate(363.2,72.4) scale(0.95,1)" font-family='"Liberation Sans", sans-serif' font-size="8.8" font-weight="normal" fill="#1e1e1e" text-anchor="end">0.8</text>
<text transform="translate(363.2,59.25) scale(0.95,1)" font-family='"Liberation Sans", sans-serif' font-size="8.8" font-weight="normal" fill="#1e1e1e" text-anchor="end">0.9</text>
<text transform="translate(363.2,46.1) scale(0.95,1)" font-family='"Liberation Sans", sans-serif' font-size="8.8" font-weight="normal" fill="#1e1e1e" text-anchor="end">1.0</text>
<text transform="translate(366.4,189.3) scale(0.94,1)" font-family='"Liberation Sans", sans-serif' font-size="8.5" font-weight="normal" fill="#1e1e1e" text-anchor="middle">300</text>
<text transform="translate(400.9,189.3) scale(0.94,1)" font-family='"Liberation Sans", sans-serif' font-size="8.5" font-weight="normal" fill="#1e1e1e" text-anchor="middle">400</text>
<text transform="translate(435.4,189.3) scale(0.94,1)" font-family='"Liberation Sans", sans-serif' font-size="8.5" font-weight="normal" fill="#1e1e1e" text-anchor="middle">500</text>
<text transform="translate(469.9,189.3) scale(0.94,1)" font-family='"Liberation Sans", sans-serif' font-size="8.5" font-weight="normal" fill="#1e1e1e" text-anchor="middle">600</text>
<text transform="translate(504.4,189.3) scale(0.94,1)" font-family='"Liberation Sans", sans-serif' font-size="8.5" font-weight="normal" fill="#1e1e1e" text-anchor="middle">700</text>
<text transform="translate(538.9,189.3) scale(0.94,1)" font-family='"Liberation Sans", sans-serif' font-size="8.5" font-weight="normal" fill="#1e1e1e" text-anchor="middle">800</text>
<text x="411.5" y="203.2" font-family='"Liberation Sans", sans-serif' font-size="10.3" font-weight="bold" fill="#1a1a1a" stroke="#1a1a1a" stroke-width="0.4" textLength="75.5" lengthAdjust="spacingAndGlyphs">Wavelength (nm)</text>
<text transform="translate(342.4,163.5) rotate(-90)" font-family='"Liberation Sans", sans-serif' font-size="10.6" font-weight="bold" fill="#1a1a1a" stroke="#1a1a1a" stroke-width="0.4" textLength="111.5" lengthAdjust="spacingAndGlyphs">Normalized Absorbance</text>
<path d="M72.5,385.2V386M74.5,385.08V385.97M76.5,384.96V385.93M78.5,384.84V385.9M80.5,384.72V385.86M82.5,384.59V385.83M84.5,384.47V385.79M86.5,384.35V385.76M88.5,384.23V385.72M90.5,384.11V385.69M92.5,383.98V385.65M94.5,383.86V385.62M96.5,383.45V385.53M98.5,382.76V385.39M100.5,382.06V385.26M102.5,381.37V385.12M104.5,380.67V384.98M106.5,379.87V384.85M108.5,379.02V384.7M110.5,378.18V384.55M112.5,377.33V384.41M114.5,376.49V384.26M116.5,375.64V384.11M118.5,374.53V383.91M120.5,373.4V383.7M122.5,372.27V383.5M124.5,371.14V383.3M126.5,370.35V383.09M128.5,369.71V382.89M130.5,369.06V382.69M132.5,368.42V382.49M134.5,367.78V382.28M136.5,367.15V382.09M138.5,366.65V382.03M140.5,366.16V381.96M142.5,365.66V381.89M144.5,365.17V381.82M146.5,364.67V381.76M148.5,364.19V381.69M150.5,363.72V381.62M152.5,363.25V381.55M154.5,362.79V381.49M156.5,362.32V381.42M158.5,361.85V381.35M160.5,361.49V381.27M162.5,361.46V381.13M164.5,361.43V381M166.5,361.39V380.87M168.5,361.36V380.73M170.5,361.32V380.6M172.5,361.36V380.5M173.5,361.49V380.49M175.5,361.75V380.48M177.5,362V380.46M179.5,362.26V380.45M181.5,362.51V380.44M183.5,362.77V380.43M185.5,363.02V380.41M187.5,363.28V380.4M189.5,363.53V380.39M191.5,363.79V380.38M193.5,364.04V380.36M195.5,364.3V380.35M197.5,364.4V380.34M199.5,364.5V380.32M201.5,364.61V380.31M203.5,364.71V380.3M205.5,364.81V380.29M207.5,364.91V380.27M209.5,365.01V380.26M211.5,365.12V380.25M213.5,365.22V380.24M215.5,365.32V380.22M217.5,365.42V380.21M219.5,365.53V380.19M221.5,365.65V380.17M223.5,365.77V380.14M225.5,365.89V380.12M227.5,366.01V380.09M229.5,366.13V380.07M231.5,366.25V380.04M233.5,366.37V380.01M235.5,366.49V379.99M237.5,366.61V379.96M239.5,366.73V379.94M241.5,366.85V379.91M243.5,366.95V379.89M245.5,367.05V379.86M247.5,367.14V379.84M249.5,367.23V379.81M251.5,367.33V379.78M253.5,367.42V379.76M255.5,367.51V379.73M257.5,367.61V379.71M259.5,367.7V379.68M261.5,367.79V379.66M263.5,367.89V379.63M265.5,367.98V379.61M267.5,368V379.51M269.5,368V379.4M271.5,368V379.3" stroke="#9a9a9a" stroke-width="0.8" fill="none"/><path d="M71.5,385.2h2M71.5,386h2M73.5,385.08h2M73.5,385.97h2M75.5,384.96h2M75.5,385.93h2M77.5,384.84h2M77.5,385.9h2M79.5,384.72h2M79.5,385.86h2M81.5,384.59h2M81.5,385.83h2M83.5,384.47h2M83.5,385.79h2M85.5,384.35h2M85.5,385.76h2M87.5,384.23h2M87.5,385.72h2M89.5,384.11h2M89.5,385.69h2M91.5,383.98h2M91.5,385.65h2M93.5,383.86h2M93.5,385.62h2M95.5,383.45h2M95.5,385.53h2M97.5,382.76h2M97.5,385.39h2M99.5,382.06h2M99.5,385.26h2M101.5,381.37h2M101.5,385.12h2M103.5,380.67h2M103.5,384.98h2M105.5,379.87h2M105.5,384.85h2M107.5,379.02h2M107.5,384.7h2M109.5,378.18h2M109.5,384.55h2M111.5,377.33h2M111.5,384.41h2M113.5,376.49h2M113.5,384.26h2M115.5,375.64h2M115.5,384.11h2M117.5,374.53h2M117.5,383.91h2M119.5,373.4h2M119.5,383.7h2M121.5,372.27h2M121.5,383.5h2M123.5,371.14h2M123.5,383.3h2M125.5,370.35h2M125.5,383.09h2M127.5,369.71h2M127.5,382.89h2M129.5,369.06h2M129.5,382.69h2M131.5,368.42h2M131.5,382.49h2M133.5,367.78h2M133.5,382.28h2M135.5,367.15h2M135.5,382.09h2M137.5,366.65h2M137.5,382.03h2M139.5,366.16h2M139.5,381.96h2M141.5,365.66h2M141.5,381.89h2M143.5,365.17h2M143.5,381.82h2M145.5,364.67h2M145.5,381.76h2M147.5,364.19h2M147.5,381.69h2M149.5,363.72h2M149.5,381.62h2M151.5,363.25h2M151.5,381.55h2M153.5,362.79h2M153.5,381.49h2M155.5,362.32h2M155.5,381.42h2M157.5,361.85h2M157.5,381.35h2M159.5,361.49h2M159.5,381.27h2M161.5,361.46h2M161.5,381.13h2M163.5,361.43h2M163.5,381h2M165.5,361.39h2M165.5,380.87h2M167.5,361.36h2M167.5,380.73h2M169.5,361.32h2M169.5,380.6h2M171.5,361.36h2M171.5,380.5h2M172.5,361.49h2M172.5,380.49h2M174.5,361.75h2M174.5,380.48h2M176.5,362h2M176.5,380.46h2M178.5,362.26h2M178.5,380.45h2M180.5,362.51h2M180.5,380.44h2M182.5,362.77h2M182.5,380.43h2M184.5,363.02h2M184.5,380.41h2M186.5,363.28h2M186.5,380.4h2M188.5,363.53h2M188.5,380.39h2M190.5,363.79h2M190.5,380.38h2M192.5,364.04h2M192.5,380.36h2M194.5,364.3h2M194.5,380.35h2M196.5,364.4h2M196.5,380.34h2M198.5,364.5h2M198.5,380.32h2M200.5,364.61h2M200.5,380.31h2M202.5,364.71h2M202.5,380.3h2M204.5,364.81h2M204.5,380.29h2M206.5,364.91h2M206.5,380.27h2M208.5,365.01h2M208.5,380.26h2M210.5,365.12h2M210.5,380.25h2M212.5,365.22h2M212.5,380.24h2M214.5,365.32h2M214.5,380.22h2M216.5,365.42h2M216.5,380.21h2M218.5,365.53h2M218.5,380.19h2M220.5,365.65h2M220.5,380.17h2M222.5,365.77h2M222.5,380.14h2M224.5,365.89h2M224.5,380.12h2M226.5,366.01h2M226.5,380.09h2M228.5,366.13h2M228.5,380.07h2M230.5,366.25h2M230.5,380.04h2M232.5,366.37h2M232.5,380.01h2M234.5,366.49h2M234.5,379.99h2M236.5,366.61h2M236.5,379.96h2M238.5,366.73h2M238.5,379.94h2M240.5,366.85h2M240.5,379.91h2M242.5,366.95h2M242.5,379.89h2M244.5,367.05h2M244.5,379.86h2M246.5,367.14h2M246.5,379.84h2M248.5,367.23h2M248.5,379.81h2M250.5,367.33h2M250.5,379.78h2M252.5,367.42h2M252.5,379.76h2M254.5,367.51h2M254.5,379.73h2M256.5,367.61h2M256.5,379.71h2M258.5,367.7h2M258.5,379.68h2M260.5,367.79h2M260.5,379.66h2M262.5,367.89h2M262.5,379.63h2M264.5,367.98h2M264.5,379.61h2M266.5,368h2M266.5,379.51h2M268.5,368h2M268.5,379.4h2M270.5,368h2M270.5,379.3h2" stroke="#555" stroke-width="0.9" fill="none"/>
<path d="M72.5,384.6V385.4M74.5,384.49V385.32M76.5,384.37V385.23M78.5,384.25V385.14M80.5,384.13V385.05M82.5,384.01V384.96M84.5,383.89V384.87M86.5,383.69V384.78M88.5,383.24V384.69M90.5,382.8V384.6M92.5,382.36V384.51M94.5,381.91V384.42M96.5,381.17V384.12M98.5,380.34V383.75M100.5,379.5V383.37M102.5,377.87V383M104.5,376.23V381.73M106.5,374.22V380.46M108.5,371.9V379.2M110.5,369.58V377.41M112.5,366.14V374.98M114.5,362.33V372.55M116.5,357.97V370.12M118.5,353.3V367.33M120.5,347.95V364.53M122.5,342.04V361.71M124.5,336.12V358.86M126.5,330.17V356M128.5,324.17V353.14M130.5,318.08V350.29M132.5,312.04V346.01M134.5,306.23V341.59M136.5,300.37V336.94M138.5,294.09V330.3M140.5,287.81V323.67M142.5,282.3V317.03M144.5,276.82V310.4M146.5,272.15V306.46M148.5,267.63V303M150.5,259.5V300.06M152.5,251.72V298.68M154.5,248.61V297.65M156.5,246.2V296.81M158.5,244.66V295.98M160.5,243.29V295.14M162.5,242.46V294.6M164.5,241.86V294.27M166.5,242.19V293.93M168.5,242.51V293.6M170.5,243.29V293.8M172.5,244.76V294.78M173.5,245.5V295.28M175.5,246.95V296.27M177.5,247.88V297.25M179.5,248.8V298.25M181.5,249.77V299.25M183.5,250.84V300.25M185.5,251.91V301.25M187.5,254.24V302.37M189.5,258.1V303.62M191.5,261.88V304.88M193.5,265.38V306.14M195.5,268.31V307.39M197.5,269.55V308.65M199.5,270.79V309.69M201.5,272.03V310.68M203.5,273.27V311.68M205.5,274.5V312.67M207.5,276.05V313.66M209.5,277.8V314.65M211.5,279.56V315.65M213.5,281.31V316.65M215.5,283.06V317.65M217.5,284.81V318.65M219.5,286.56V319.65M221.5,288.32V320.38M223.5,290.07V320.9M225.5,291.82V321.41M227.5,293.57V321.92M229.5,295.18V322.44M231.5,296.43V322.95M233.5,297.68V323.89M235.5,298.93V324.88M237.5,300.18V325.87M239.5,301.43V326.87M241.5,302.85V327.86M243.5,304.36V328.91M245.5,305.86V330.16M247.5,307.37V331.41M249.5,308.87V332.66M251.5,310.41V333.91M253.5,312.66V335.16M255.5,314.91V336.47M257.5,317.16V337.81M259.5,319.4V339.15M261.5,321.65V340.5M263.5,323.51V341.56M265.5,324.8V342.2M267.5,326.09V342.84M269.5,327.38V343.49M271.5,328.6V344.1" stroke="#f59090" stroke-width="0.85" fill="none"/><path d="M71.5,384.6h2M71.5,385.4h2M73.5,384.49h2M73.5,385.32h2M75.5,384.37h2M75.5,385.23h2M77.5,384.25h2M77.5,385.14h2M79.5,384.13h2M79.5,385.05h2M81.5,384.01h2M81.5,384.96h2M83.5,383.89h2M83.5,384.87h2M85.5,383.69h2M85.5,384.78h2M87.5,383.24h2M87.5,384.69h2M89.5,382.8h2M89.5,384.6h2M91.5,382.36h2M91.5,384.51h2M93.5,381.91h2M93.5,384.42h2M95.5,381.17h2M95.5,384.12h2M97.5,380.34h2M97.5,383.75h2M99.5,379.5h2M99.5,383.37h2M101.5,377.87h2M101.5,383h2M103.5,376.23h2M103.5,381.73h2M105.5,374.22h2M105.5,380.46h2M107.5,371.9h2M107.5,379.2h2M109.5,369.58h2M109.5,377.41h2M111.5,366.14h2M111.5,374.98h2M113.5,362.33h2M113.5,372.55h2M115.5,357.97h2M115.5,370.12h2M117.5,353.3h2M117.5,367.33h2M119.5,347.95h2M119.5,364.53h2M121.5,342.04h2M121.5,361.71h2M123.5,336.12h2M123.5,358.86h2M125.5,330.17h2M125.5,356h2M127.5,324.17h2M127.5,353.14h2M129.5,318.08h2M129.5,350.29h2M131.5,312.04h2M131.5,346.01h2M133.5,306.23h2M133.5,341.59h2M135.5,300.37h2M135.5,336.94h2M137.5,294.09h2M137.5,330.3h2M139.5,287.81h2M139.5,323.67h2M141.5,282.3h2M141.5,317.03h2M143.5,276.82h2M143.5,310.4h2M145.5,272.15h2M145.5,306.46h2M147.5,267.63h2M147.5,303h2M149.5,259.5h2M149.5,300.06h2M151.5,251.72h2M151.5,298.68h2M153.5,248.61h2M153.5,297.65h2M155.5,246.2h2M155.5,296.81h2M157.5,244.66h2M157.5,295.98h2M159.5,243.29h2M159.5,295.14h2M161.5,242.46h2M161.5,294.6h2M163.5,241.86h2M163.5,294.27h2M165.5,242.19h2M165.5,293.93h2M167.5,242.51h2M167.5,293.6h2M169.5,243.29h2M169.5,293.8h2M171.5,244.76h2M171.5,294.78h2M172.5,245.5h2M172.5,295.28h2M174.5,246.95h2M174.5,296.27h2M176.5,247.88h2M176.5,297.25h2M178.5,248.8h2M178.5,298.25h2M180.5,249.77h2M180.5,299.25h2M182.5,250.84h2M182.5,300.25h2M184.5,251.91h2M184.5,301.25h2M186.5,254.24h2M186.5,302.37h2M188.5,258.1h2M188.5,303.62h2M190.5,261.88h2M190.5,304.88h2M192.5,265.38h2M192.5,306.14h2M194.5,268.31h2M194.5,307.39h2M196.5,269.55h2M196.5,308.65h2M198.5,270.79h2M198.5,309.69h2M200.5,272.03h2M200.5,310.68h2M202.5,273.27h2M202.5,311.68h2M204.5,274.5h2M204.5,312.67h2M206.5,276.05h2M206.5,313.66h2M208.5,277.8h2M208.5,314.65h2M210.5,279.56h2M210.5,315.65h2M212.5,281.31h2M212.5,316.65h2M214.5,283.06h2M214.5,317.65h2M216.5,284.81h2M216.5,318.65h2M218.5,286.56h2M218.5,319.65h2M220.5,288.32h2M220.5,320.38h2M222.5,290.07h2M222.5,320.9h2M224.5,291.82h2M224.5,321.41h2M226.5,293.57h2M226.5,321.92h2M228.5,295.18h2M228.5,322.44h2M230.5,296.43h2M230.5,322.95h2M232.5,297.68h2M232.5,323.89h2M234.5,298.93h2M234.5,324.88h2M236.5,300.18h2M236.5,325.87h2M238.5,301.43h2M238.5,326.87h2M240.5,302.85h2M240.5,327.86h2M242.5,304.36h2M242.5,328.91h2M244.5,305.86h2M244.5,330.16h2M246.5,307.37h2M246.5,331.41h2M248.5,308.87h2M248.5,332.66h2M250.5,310.41h2M250.5,333.91h2M252.5,312.66h2M252.5,335.16h2M254.5,314.91h2M254.5,336.47h2M256.5,317.16h2M256.5,337.81h2M258.5,319.4h2M258.5,339.15h2M260.5,321.65h2M260.5,340.5h2M262.5,323.51h2M262.5,341.56h2M264.5,324.8h2M264.5,342.2h2M266.5,326.09h2M266.5,342.84h2M268.5,327.38h2M268.5,343.49h2M270.5,328.6h2M270.5,344.1h2" stroke="#f06060" stroke-width="0.9" fill="none"/>
<path d="M72.6,385.6C74.83,385.55 82.18,385.48 86,385.3C89.82,385.12 92.83,384.75 95.5,384.5C98.17,384.25 99.88,384.13 102,383.8C104.12,383.47 105.77,383.15 108.2,382.5C110.63,381.85 113.78,380.82 116.6,379.9C119.42,378.98 121.82,377.95 125.1,377C128.38,376.05 132.55,375.03 136.3,374.2C140.05,373.37 143.65,372.6 147.6,372C151.55,371.4 155.93,370.93 160,370.6C164.07,370.27 166.08,369.92 172,370C177.92,370.08 187.67,370.63 195.5,371.1C203.33,371.57 211.18,372.22 219,372.8C226.82,373.38 234.58,374.3 242.4,374.6C250.22,374.9 261.07,374.87 265.9,374.6C270.73,374.33 270.48,373.27 271.4,373" fill="none" stroke="#111" stroke-width="1.6"/>
<path d="M72.6,385C73.83,384.98 76.88,385.05 80,384.9C83.12,384.75 88.02,384.7 91.3,384.1C94.58,383.5 96.88,382.95 99.7,381.3C102.52,379.65 105.85,376.78 108.2,374.2C110.55,371.62 111.93,369.08 113.8,365.8C115.67,362.52 117.52,358.73 119.4,354.5C121.28,350.27 123.22,345.33 125.1,340.4C126.98,335.47 128.83,329.72 130.7,324.9C132.57,320.08 134.42,316.07 136.3,311.5C138.18,306.93 140.12,302.17 142,297.5C143.88,292.83 145.73,287.08 147.6,283.5C149.47,279.92 151.38,277.87 153.2,276C155.02,274.13 156.45,273.63 158.5,272.3C160.55,270.97 162.68,268.25 165.5,268C168.32,267.75 171.88,269.38 175.4,270.8C178.92,272.22 182.85,273.92 186.6,276.5C190.35,279.08 194.13,283.25 197.9,286.3C201.67,289.35 205.45,292.22 209.2,294.8C212.95,297.38 216.65,299.68 220.4,301.8C224.15,303.92 227.93,305.38 231.7,307.5C235.47,309.62 239.25,311.68 243,314.5C246.75,317.32 250.92,321.58 254.2,324.4C257.48,327.22 259.83,329.53 262.7,331.4C265.57,333.27 269.95,334.9 271.4,335.6" fill="none" stroke="#f01818" stroke-width="1.8"/>
<rect x="271.3" y="220" width="10" height="180" fill="#fff"/>
<rect x="72.6" y="228" width="198.8" height="159.3" fill="none" stroke="#4a4a4a" stroke-width="1"/>
<path d="M72.5,387.3v3.2M112.3,387.3v3.2M152.1,387.3v3.2M191.9,387.3v3.2M231.7,387.3v3.2M271.5,387.3v3.2" stroke="#444" stroke-width="0.8"/>
<path d="M82.45,387.3v1.7M92.4,387.3v1.7M102.35,387.3v1.7M122.25,387.3v1.7M132.2,387.3v1.7M142.15,387.3v1.7M162.05,387.3v1.7M172,387.3v1.7M181.95,387.3v1.7M201.85,387.3v1.7M211.8,387.3v1.7M221.75,387.3v1.7M241.65,387.3v1.7M251.6,387.3v1.7M261.55,387.3v1.7" stroke="#444" stroke-width="0.8"/>
<path d="M72.6,387.3h-3.4M72.6,362.9h-3.4M72.6,338.5h-3.4M72.6,314.1h-3.4M72.6,289.7h-3.4M72.6,265.3h-3.4M72.6,240.9h-3.4" stroke="#444" stroke-width="0.8"/>
<path d="M72.6,381.2h-1.7M72.6,375.1h-1.7M72.6,369h-1.7M72.6,356.8h-1.7M72.6,350.7h-1.7M72.6,344.6h-1.7M72.6,332.4h-1.7M72.6,326.3h-1.7M72.6,320.2h-1.7M72.6,308h-1.7M72.6,301.9h-1.7M72.6,295.8h-1.7M72.6,283.6h-1.7M72.6,277.5h-1.7M72.6,271.4h-1.7M72.6,259.2h-1.7M72.6,253.1h-1.7M72.6,247h-1.7M72.6,234.8h-1.7M72.6,228.7h-1.7" stroke="#444" stroke-width="0.8"/>
<text transform="translate(67.8,390) scale(0.86,1)" font-family='"Liberation Sans", sans-serif' font-size="10.6" font-weight="normal" fill="#1e1e1e" text-anchor="end">0</text>
<text transform="translate(67.8,365.6) scale(0.86,1)" font-family='"Liberation Sans", sans-serif' font-size="10.6" font-weight="normal" fill="#1e1e1e" text-anchor="end">200</text>
<text transform="translate(67.8,341.2) scale(0.86,1)" font-family='"Liberation Sans", sans-serif' font-size="10.6" font-weight="normal" fill="#1e1e1e" text-anchor="end">400</text>
<text transform="translate(67.8,316.8) scale(0.86,1)" font-family='"Liberation Sans", sans-serif' font-size="10.6" font-weight="normal" fill="#1e1e1e" text-anchor="end">600</text>
<text transform="translate(67.8,292.4) scale(0.86,1)" font-family='"Liberation Sans", sans-serif' font-size="10.6" font-weight="normal" fill="#1e1e1e" text-anchor="end">800</text>
<text transform="translate(67.8,268) scale(0.86,1)" font-family='"Liberation Sans", sans-serif' font-size="10.6" font-weight="normal" fill="#1e1e1e" text-anchor="end">1000</text>
<text transform="translate(67.8,243.6) scale(0.86,1)" font-family='"Liberation Sans", sans-serif' font-size="10.6" font-weight="normal" fill="#1e1e1e" text-anchor="end">1200</text>
<text transform="translate(72.5,400.3) scale(0.88,1)" font-family='"Liberation Sans", sans-serif' font-size="10.6" font-weight="normal" fill="#1e1e1e" text-anchor="middle">380</text>
<text transform="translate(112.3,400.3) scale(0.88,1)" font-family='"Liberation Sans", sans-serif' font-size="10.6" font-weight="normal" fill="#1e1e1e" text-anchor="middle">400</text>
<text transform="translate(152.1,400.3) scale(0.88,1)" font-family='"Liberation Sans", sans-serif' font-size="10.6" font-weight="normal" fill="#1e1e1e" text-anchor="middle">420</text>
<text transform="translate(191.9,400.3) scale(0.88,1)" font-family='"Liberation Sans", sans-serif' font-size="10.6" font-weight="normal" fill="#1e1e1e" text-anchor="middle">440</text>
<text transform="translate(231.7,400.3) scale(0.88,1)" font-family='"Liberation Sans", sans-serif' font-size="10.6" font-weight="normal" fill="#1e1e1e" text-anchor="middle">460</text>
<text transform="translate(271.5,400.3) scale(0.88,1)" font-family='"Liberation Sans", sans-serif' font-size="10.6" font-weight="normal" fill="#1e1e1e" text-anchor="middle">480</text>
<text transform="translate(87.2,250.5) scale(0.95,1)" font-family='"Liberation Sans", sans-serif' font-size="18.5" font-weight="normal" fill="#1e1e1e" text-anchor="start">(c)</text>
<text x="124.6" y="416.6" font-family='"Liberation Sans", sans-serif' font-size="12" font-weight="bold" fill="#1a1a1a" stroke="#1a1a1a" stroke-width="0.4" textLength="87.5" lengthAdjust="spacingAndGlyphs">Wavelength (nm)</text>
<text transform="translate(37.8,371) rotate(-90)" font-family='"Liberation Sans", sans-serif' font-size="12.6" font-weight="bold" fill="#1a1a1a" stroke="#1a1a1a" stroke-width="0.4" textLength="127" lengthAdjust="spacingAndGlyphs">Emission Intensity (a.u.)</text>
<path d="M325.5,383V384.5M329.5,382.9V384.45M332.5,382.82V384.41M336.5,382.71V384.36M339.5,382.62V384.32M342.5,382.54V384.28M346.5,382.43V384.22M349.5,382.35V384.18M352.5,382.26V384.14M356.5,382.15V384.09M359.5,382.07V384.05M363.5,381.81V383.99M366.5,381.44V383.95M369.5,381.06V383.91M373.5,380.56V383.86M376.5,380.19V383.82M379.5,379.81V383.78M383.5,379.31V383.72M386.5,378.94V383.68M390.5,378.22V383.63M393.5,376.54V383.59M396.5,374.87V383.55M400.5,372.63V383.49M403.5,370.96V383.41M407.5,368.91V383.31M410.5,367.42V383.24M413.5,365.93V383.16M417.5,363.95V383.06M420.5,362.44V382.99M423.5,360.93V382.91M427.5,358.92V382.81M430.5,357.41V382.74M434.5,355.26V382.64M437.5,353.54V382.56M440.5,351.7V382.47M444.5,348.6V382.21M447.5,346.5V382.01M450.5,344.39V381.82M454.5,341.59V381.56M457.5,340.31V381.37M461.5,338.95V381.11M464.5,337.92V380.91M467.5,337.03V380.72M471.5,336.55V380.46M474.5,336.73V380.32M478.5,337.51V380.47M481.5,338.23V380.59M484.5,339.6V380.7M488.5,341.43V380.86M491.5,343.06V380.97M494.5,345.15V381.09M498.5,347.93V381.24M501.5,350.01V381.34M505.5,352.47V381.44M508.5,354.27V381.51M511.5,356.06V381.59M515.5,358.13V381.69M518.5,359.31V381.76M521.5,360.14V381.84M525.5,360.79V381.94M528.5,361.2V382" stroke="#8a8a8a" stroke-width="0.8" fill="none"/><path d="M324.2,383h2.6M324.2,384.5h2.6M328.2,382.9h2.6M328.2,384.45h2.6M331.2,382.82h2.6M331.2,384.41h2.6M335.2,382.71h2.6M335.2,384.36h2.6M338.2,382.62h2.6M338.2,384.32h2.6M341.2,382.54h2.6M341.2,384.28h2.6M345.2,382.43h2.6M345.2,384.22h2.6M348.2,382.35h2.6M348.2,384.18h2.6M351.2,382.26h2.6M351.2,384.14h2.6M355.2,382.15h2.6M355.2,384.09h2.6M358.2,382.07h2.6M358.2,384.05h2.6M362.2,381.81h2.6M362.2,383.99h2.6M365.2,381.44h2.6M365.2,383.95h2.6M368.2,381.06h2.6M368.2,383.91h2.6M372.2,380.56h2.6M372.2,383.86h2.6M375.2,380.19h2.6M375.2,383.82h2.6M378.2,379.81h2.6M378.2,383.78h2.6M382.2,379.31h2.6M382.2,383.72h2.6M385.2,378.94h2.6M385.2,383.68h2.6M389.2,378.22h2.6M389.2,383.63h2.6M392.2,376.54h2.6M392.2,383.59h2.6M395.2,374.87h2.6M395.2,383.55h2.6M399.2,372.63h2.6M399.2,383.49h2.6M402.2,370.96h2.6M402.2,383.41h2.6M406.2,368.91h2.6M406.2,383.31h2.6M409.2,367.42h2.6M409.2,383.24h2.6M412.2,365.93h2.6M412.2,383.16h2.6M416.2,363.95h2.6M416.2,383.06h2.6M419.2,362.44h2.6M419.2,382.99h2.6M422.2,360.93h2.6M422.2,382.91h2.6M426.2,358.92h2.6M426.2,382.81h2.6M429.2,357.41h2.6M429.2,382.74h2.6M433.2,355.26h2.6M433.2,382.64h2.6M436.2,353.54h2.6M436.2,382.56h2.6M439.2,351.7h2.6M439.2,382.47h2.6M443.2,348.6h2.6M443.2,382.21h2.6M446.2,346.5h2.6M446.2,382.01h2.6M449.2,344.39h2.6M449.2,381.82h2.6M453.2,341.59h2.6M453.2,381.56h2.6M456.2,340.31h2.6M456.2,381.37h2.6M460.2,338.95h2.6M460.2,381.11h2.6M463.2,337.92h2.6M463.2,380.91h2.6M466.2,337.03h2.6M466.2,380.72h2.6M470.2,336.55h2.6M470.2,380.46h2.6M473.2,336.73h2.6M473.2,380.32h2.6M477.2,337.51h2.6M477.2,380.47h2.6M480.2,338.23h2.6M480.2,380.59h2.6M483.2,339.6h2.6M483.2,380.7h2.6M487.2,341.43h2.6M487.2,380.86h2.6M490.2,343.06h2.6M490.2,380.97h2.6M493.2,345.15h2.6M493.2,381.09h2.6M497.2,347.93h2.6M497.2,381.24h2.6M500.2,350.01h2.6M500.2,381.34h2.6M504.2,352.47h2.6M504.2,381.44h2.6M507.2,354.27h2.6M507.2,381.51h2.6M510.2,356.06h2.6M510.2,381.59h2.6M514.2,358.13h2.6M514.2,381.69h2.6M517.2,359.31h2.6M517.2,381.76h2.6M520.2,360.14h2.6M520.2,381.84h2.6M524.2,360.79h2.6M524.2,381.94h2.6M527.2,361.2h2.6M527.2,382h2.6" stroke="#555" stroke-width="0.9" fill="none"/>
<path d="M325.5,380.5V383M329.5,380.14V382.8M332.5,379.83V382.63M336.5,379.42V382.4M339.5,379.11V382.23M342.5,378.8V382.06M346.5,378.39V381.84M349.5,378.08V381.66M352.5,377.77V381.49M356.5,377.36V381.27M359.5,377.05V381.1M363.5,375.92V380.87M366.5,374.99V380.7M369.5,374.06V380.53M373.5,372.83V380.03M376.5,371.9V379.63M379.5,370.97V379.23M383.5,369.73V378.7M386.5,368.81V378.3M390.5,367.55V377.77M393.5,366.15V377.37M396.5,364.74V376.97M400.5,362.87V376.34M403.5,361.47V375.36M407.5,358.48V374.06M410.5,355.96V373.09M413.5,353.43V372.11M417.5,349.91V370.81M420.5,347.09V369.7M423.5,344.28V367.91M427.5,340.37V365.51M430.5,336.58V363.72M434.5,328.84V360.15M437.5,321.09V357.1M440.5,314.23V354.05M444.5,304.51V349.78M447.5,296.46V346.12M450.5,288.4V342.46M454.5,278.35V337.59M457.5,271.43V333.93M461.5,262.9V329.91M464.5,256.9V327.88M467.5,252.23V325.84M471.5,246.3V324.51M474.5,243.63V323.65M478.5,242.6V322.94M481.5,242.77V323.36M484.5,243.77V323.79M488.5,247.03V325.51M491.5,250.29V327.32M494.5,254.63V329.14M498.5,261.91V331.87M501.5,267.18V333.96M505.5,275.09V337M508.5,281.1V339.4M511.5,286.64V341.52M515.5,293.76V343.97M518.5,300.37V345.82M521.5,305.13V347.74M525.5,311.23V350.3M528.5,314.4V351.9" stroke="#f59595" stroke-width="0.8" fill="none"/><path d="M324.2,380.5h2.6M324.2,383h2.6M328.2,380.14h2.6M328.2,382.8h2.6M331.2,379.83h2.6M331.2,382.63h2.6M335.2,379.42h2.6M335.2,382.4h2.6M338.2,379.11h2.6M338.2,382.23h2.6M341.2,378.8h2.6M341.2,382.06h2.6M345.2,378.39h2.6M345.2,381.84h2.6M348.2,378.08h2.6M348.2,381.66h2.6M351.2,377.77h2.6M351.2,381.49h2.6M355.2,377.36h2.6M355.2,381.27h2.6M358.2,377.05h2.6M358.2,381.1h2.6M362.2,375.92h2.6M362.2,380.87h2.6M365.2,374.99h2.6M365.2,380.7h2.6M368.2,374.06h2.6M368.2,380.53h2.6M372.2,372.83h2.6M372.2,380.03h2.6M375.2,371.9h2.6M375.2,379.63h2.6M378.2,370.97h2.6M378.2,379.23h2.6M382.2,369.73h2.6M382.2,378.7h2.6M385.2,368.81h2.6M385.2,378.3h2.6M389.2,367.55h2.6M389.2,377.77h2.6M392.2,366.15h2.6M392.2,377.37h2.6M395.2,364.74h2.6M395.2,376.97h2.6M399.2,362.87h2.6M399.2,376.34h2.6M402.2,361.47h2.6M402.2,375.36h2.6M406.2,358.48h2.6M406.2,374.06h2.6M409.2,355.96h2.6M409.2,373.09h2.6M412.2,353.43h2.6M412.2,372.11h2.6M416.2,349.91h2.6M416.2,370.81h2.6M419.2,347.09h2.6M419.2,369.7h2.6M422.2,344.28h2.6M422.2,367.91h2.6M426.2,340.37h2.6M426.2,365.51h2.6M429.2,336.58h2.6M429.2,363.72h2.6M433.2,328.84h2.6M433.2,360.15h2.6M436.2,321.09h2.6M436.2,357.1h2.6M439.2,314.23h2.6M439.2,354.05h2.6M443.2,304.51h2.6M443.2,349.78h2.6M446.2,296.46h2.6M446.2,346.12h2.6M449.2,288.4h2.6M449.2,342.46h2.6M453.2,278.35h2.6M453.2,337.59h2.6M456.2,271.43h2.6M456.2,333.93h2.6M460.2,262.9h2.6M460.2,329.91h2.6M463.2,256.9h2.6M463.2,327.88h2.6M466.2,252.23h2.6M466.2,325.84h2.6M470.2,246.3h2.6M470.2,324.51h2.6M473.2,243.63h2.6M473.2,323.65h2.6M477.2,242.6h2.6M477.2,322.94h2.6M480.2,242.77h2.6M480.2,323.36h2.6M483.2,243.77h2.6M483.2,323.79h2.6M487.2,247.03h2.6M487.2,325.51h2.6M490.2,250.29h2.6M490.2,327.32h2.6M493.2,254.63h2.6M493.2,329.14h2.6M497.2,261.91h2.6M497.2,331.87h2.6M500.2,267.18h2.6M500.2,333.96h2.6M504.2,275.09h2.6M504.2,337h2.6M507.2,281.1h2.6M507.2,339.4h2.6M510.2,286.64h2.6M510.2,341.52h2.6M514.2,293.76h2.6M514.2,343.97h2.6M517.2,300.37h2.6M517.2,345.82h2.6M520.2,305.13h2.6M520.2,347.74h2.6M524.2,311.23h2.6M524.2,350.3h2.6M527.2,314.4h2.6M527.2,351.9h2.6" stroke="#f06060" stroke-width="0.9" fill="none"/>
<path d="M326,383.7C332.05,383.6 351.57,383.53 362.3,383.1C373.03,382.67 382.43,382.03 390.4,381.1C398.37,380.17 404.47,378.82 410.1,377.5C415.73,376.18 420.6,374.32 424.2,373.2C427.8,372.08 429.07,371.7 431.7,370.8C434.33,369.9 437.45,368.85 440,367.8C442.55,366.75 444.47,365.63 447,364.5C449.53,363.37 451.88,362.05 455.2,361C458.52,359.95 463.57,358.78 466.9,358.2C470.23,357.62 472.07,357.42 475.2,357.5C478.33,357.58 481.98,357.92 485.7,358.7C489.42,359.48 493.58,360.83 497.5,362.2C501.42,363.57 505.45,365.53 509.2,366.9C512.95,368.27 516.87,369.57 520,370.4C523.13,371.23 526.67,371.65 528,371.9" fill="none" stroke="#111" stroke-width="1.7"/>
<path d="M326,381.7C329.7,381.37 340.75,380.43 348.2,379.7C355.65,378.97 364.13,378.28 370.7,377.3C377.27,376.32 382.43,375.18 387.6,373.8C392.77,372.42 397.47,370.97 401.7,369C405.93,367.03 409.25,364.82 413,362C416.75,359.18 421,355.27 424.2,352.1C427.4,348.93 429.57,346.43 432.2,343C434.83,339.57 437.7,335.08 440,331.5C442.3,327.92 443.85,325.55 446,321.5C448.15,317.45 450.9,310.95 452.9,307.2C454.9,303.45 456.43,301.35 458,299C459.57,296.65 460.8,294.93 462.3,293.1C463.8,291.27 465.45,289.37 467,288C468.55,286.63 469.65,285.82 471.6,284.9C473.55,283.98 476.35,282.62 478.7,282.5C481.05,282.38 483.73,283.37 485.7,284.2C487.67,285.03 488.93,286.22 490.5,287.5C492.07,288.78 493.52,290.23 495.1,291.9C496.68,293.57 498.43,295.55 500,297.5C501.57,299.45 502.97,301.55 504.5,303.6C506.03,305.65 507.63,307.65 509.2,309.8C510.77,311.95 512.33,314.4 513.9,316.5C515.47,318.6 517.08,320.48 518.6,322.4C520.12,324.32 521.43,326.22 523,328C524.57,329.78 527.17,332.25 528,333.1" fill="none" stroke="#f01818" stroke-width="1.8"/>
<rect x="325.9" y="226" width="202.4" height="162.4" fill="none" stroke="#4a4a4a" stroke-width="1"/>
<path d="M325.9,388.4v3.2M359.7,388.4v3.2M393.5,388.4v3.2M427.3,388.4v3.2M461.1,388.4v3.2M494.9,388.4v3.2M528.7,388.4v3.2" stroke="#444" stroke-width="0.8"/>
<path d="M332.66,388.4v1.7M339.42,388.4v1.7M346.18,388.4v1.7M352.94,388.4v1.7M366.46,388.4v1.7M373.22,388.4v1.7M379.98,388.4v1.7M386.74,388.4v1.7M400.26,388.4v1.7M407.02,388.4v1.7M413.78,388.4v1.7M420.54,388.4v1.7M434.06,388.4v1.7M440.82,388.4v1.7M447.58,388.4v1.7M454.34,388.4v1.7M467.86,388.4v1.7M474.62,388.4v1.7M481.38,388.4v1.7M488.14,388.4v1.7M501.66,388.4v1.7M508.42,388.4v1.7M515.18,388.4v1.7M521.94,388.4v1.7" stroke="#444" stroke-width="0.8"/>
<path d="M325.9,388.4h-3.4M325.9,362.4h-3.4M325.9,336.4h-3.4M325.9,310.4h-3.4M325.9,284.4h-3.4M325.9,258.4h-3.4M325.9,232.4h-3.4" stroke="#444" stroke-width="0.8"/>
<path d="M325.9,383.2h-1.7M325.9,378h-1.7M325.9,372.8h-1.7M325.9,367.6h-1.7M325.9,357.2h-1.7M325.9,352h-1.7M325.9,346.8h-1.7M325.9,341.6h-1.7M325.9,331.2h-1.7M325.9,326h-1.7M325.9,320.8h-1.7M325.9,315.6h-1.7M325.9,305.2h-1.7M325.9,300h-1.7M325.9,294.8h-1.7M325.9,289.6h-1.7M325.9,279.2h-1.7M325.9,274h-1.7M325.9,268.8h-1.7M325.9,263.6h-1.7M325.9,253.2h-1.7M325.9,248h-1.7M325.9,242.8h-1.7M325.9,237.6h-1.7M325.9,227.2h-1.7" stroke="#444" stroke-width="0.8"/>
<text transform="translate(321.1,391.1) scale(0.86,1)" font-family='"Liberation Sans", sans-serif' font-size="10.6" font-weight="normal" fill="#1e1e1e" text-anchor="end">0</text>
<text transform="translate(321.1,365.1) scale(0.86,1)" font-family='"Liberation Sans", sans-serif' font-size="10.6" font-weight="normal" fill="#1e1e1e" text-anchor="end">100</text>
<text transform="translate(321.1,339.1) scale(0.86,1)" font-family='"Liberation Sans", sans-serif' font-size="10.6" font-weight="normal" fill="#1e1e1e" text-anchor="end">200</text>
<text transform="translate(321.1,313.1) scale(0.86,1)" font-family='"Liberation Sans", sans-serif' font-size="10.6" font-weight="normal" fill="#1e1e1e" text-anchor="end">300</text>
<text transform="translate(321.1,287.1) scale(0.86,1)" font-family='"Liberation Sans", sans-serif' font-size="10.6" font-weight="normal" fill="#1e1e1e" text-anchor="end">400</text>
<text transform="translate(321.1,261.1) scale(0.86,1)" font-family='"Liberation Sans", sans-serif' font-size="10.6" font-weight="normal" fill="#1e1e1e" text-anchor="end">500</text>
<text transform="translate(321.1,235.1) scale(0.86,1)" font-family='"Liberation Sans", sans-serif' font-size="10.6" font-weight="normal" fill="#1e1e1e" text-anchor="end">600</text>
<text transform="translate(325.9,401.2) scale(0.88,1)" font-family='"Liberation Sans", sans-serif' font-size="10.6" font-weight="normal" fill="#1e1e1e" text-anchor="middle">620</text>
<text transform="translate(359.7,401.2) scale(0.88,1)" font-family='"Liberation Sans", sans-serif' font-size="10.6" font-weight="normal" fill="#1e1e1e" text-anchor="middle">630</text>
<text transform="translate(393.5,401.2) scale(0.88,1)" font-family='"Liberation Sans", sans-serif' font-size="10.6" font-weight="normal" fill="#1e1e1e" text-anchor="middle">640</text>
<text transform="translate(427.3,401.2) scale(0.88,1)" font-family='"Liberation Sans", sans-serif' font-size="10.6" font-weight="normal" fill="#1e1e1e" text-anchor="middle">650</text>
<text transform="translate(461.1,401.2) scale(0.88,1)" font-family='"Liberation Sans", sans-serif' font-size="10.6" font-weight="normal" fill="#1e1e1e" text-anchor="middle">660</text>
<text transform="translate(494.9,401.2) scale(0.88,1)" font-family='"Liberation Sans", sans-serif' font-size="10.6" font-weight="normal" fill="#1e1e1e" text-anchor="middle">670</text>
<text transform="translate(528.7,401.2) scale(0.88,1)" font-family='"Liberation Sans", sans-serif' font-size="10.6" font-weight="normal" fill="#1e1e1e" text-anchor="middle">680</text>
<text transform="translate(342.1,248) scale(0.95,1)" font-family='"Liberation Sans", sans-serif' font-size="18.5" font-weight="normal" fill="#1e1e1e" text-anchor="start">(d)</text>
<text x="379.3" y="417.8" font-family='"Liberation Sans", sans-serif' font-size="12" font-weight="bold" fill="#1a1a1a" stroke="#1a1a1a" stroke-width="0.4" textLength="88" lengthAdjust="spacingAndGlyphs">Wavelength (nm)</text>
<text transform="translate(294.4,384) rotate(-90)" font-family='"Liberation Sans", sans-serif' font-size="12.6" font-weight="bold" fill="#1a1a1a" stroke="#1a1a1a" stroke-width="0.4" textLength="154" lengthAdjust="spacingAndGlyphs">Emission Intensity / 10<tspan font-size="7.5" dy="-4.8">3</tspan><tspan dy="4.8"> (a.u.)</tspan></text>
<g fill="#c8c8c8"><rect x="19.5" y="419.3" width="1.6" height="1.4"/><rect x="23.5" y="419.3" width="1.8" height="1.4"/><rect x="32.5" y="419.3" width="1.4" height="1.4"/></g>
</svg>
</body></html>
